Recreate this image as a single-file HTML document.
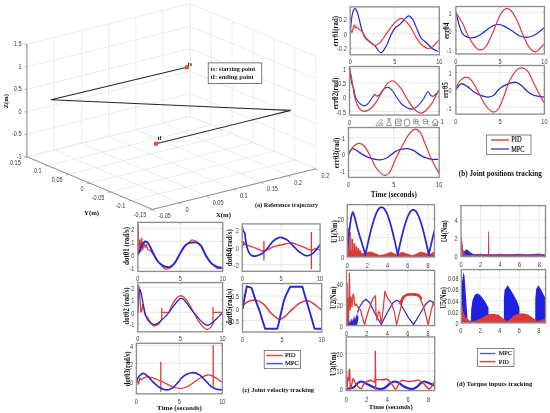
<!DOCTYPE html>
<html><head><meta charset="utf-8"><style>
html,body{margin:0;padding:0;background:#fff;width:550px;height:413px;overflow:hidden}
svg{display:block;filter:blur(0.4px)}
</style></head><body>
<svg width="550" height="413" viewBox="0 0 550 413">
<rect width="550" height="413" fill="#fff"/>
<line x1="26.9" y1="156.8" x2="190.3" y2="116.2" stroke="#e8e8e8" stroke-width="0.85"/>
<line x1="26.9" y1="134.3" x2="190.3" y2="93.7" stroke="#e8e8e8" stroke-width="0.85"/>
<line x1="26.9" y1="111.8" x2="190.3" y2="71.2" stroke="#e8e8e8" stroke-width="0.85"/>
<line x1="26.9" y1="89.3" x2="190.3" y2="48.7" stroke="#e8e8e8" stroke-width="0.85"/>
<line x1="26.9" y1="66.8" x2="190.3" y2="26.2" stroke="#e8e8e8" stroke-width="0.85"/>
<line x1="26.9" y1="44.3" x2="190.3" y2="3.7" stroke="#e8e8e8" stroke-width="0.85"/>
<line x1="26.9" y1="156.8" x2="26.9" y2="44.3" stroke="#e8e8e8" stroke-width="0.85"/>
<line x1="54.13" y1="150.03" x2="54.13" y2="37.53" stroke="#e8e8e8" stroke-width="0.85"/>
<line x1="81.37" y1="143.27" x2="81.37" y2="30.77" stroke="#e8e8e8" stroke-width="0.85"/>
<line x1="108.6" y1="136.5" x2="108.6" y2="24" stroke="#e8e8e8" stroke-width="0.85"/>
<line x1="135.83" y1="129.73" x2="135.83" y2="17.23" stroke="#e8e8e8" stroke-width="0.85"/>
<line x1="163.07" y1="122.97" x2="163.07" y2="10.47" stroke="#e8e8e8" stroke-width="0.85"/>
<line x1="190.3" y1="116.2" x2="190.3" y2="3.7" stroke="#e8e8e8" stroke-width="0.85"/>
<line x1="190.3" y1="116.2" x2="315.8" y2="168.8" stroke="#e8e8e8" stroke-width="0.85"/>
<line x1="190.3" y1="93.7" x2="315.8" y2="146.3" stroke="#e8e8e8" stroke-width="0.85"/>
<line x1="190.3" y1="71.2" x2="315.8" y2="123.8" stroke="#e8e8e8" stroke-width="0.85"/>
<line x1="190.3" y1="48.7" x2="315.8" y2="101.3" stroke="#e8e8e8" stroke-width="0.85"/>
<line x1="190.3" y1="26.2" x2="315.8" y2="78.8" stroke="#e8e8e8" stroke-width="0.85"/>
<line x1="190.3" y1="3.7" x2="315.8" y2="56.3" stroke="#e8e8e8" stroke-width="0.85"/>
<line x1="190.3" y1="116.2" x2="190.3" y2="3.7" stroke="#e8e8e8" stroke-width="0.85"/>
<line x1="211.22" y1="124.97" x2="211.22" y2="12.47" stroke="#e8e8e8" stroke-width="0.85"/>
<line x1="232.13" y1="133.73" x2="232.13" y2="21.23" stroke="#e8e8e8" stroke-width="0.85"/>
<line x1="253.05" y1="142.5" x2="253.05" y2="30" stroke="#e8e8e8" stroke-width="0.85"/>
<line x1="273.97" y1="151.27" x2="273.97" y2="38.77" stroke="#e8e8e8" stroke-width="0.85"/>
<line x1="294.88" y1="160.03" x2="294.88" y2="47.53" stroke="#e8e8e8" stroke-width="0.85"/>
<line x1="315.8" y1="168.8" x2="315.8" y2="56.3" stroke="#e8e8e8" stroke-width="0.85"/>
<line x1="26.9" y1="156.8" x2="152.4" y2="209.4" stroke="#e8e8e8" stroke-width="0.85"/>
<line x1="54.13" y1="150.03" x2="179.63" y2="202.63" stroke="#e8e8e8" stroke-width="0.85"/>
<line x1="81.37" y1="143.27" x2="206.87" y2="195.87" stroke="#e8e8e8" stroke-width="0.85"/>
<line x1="108.6" y1="136.5" x2="234.1" y2="189.1" stroke="#e8e8e8" stroke-width="0.85"/>
<line x1="135.83" y1="129.73" x2="261.33" y2="182.33" stroke="#e8e8e8" stroke-width="0.85"/>
<line x1="163.07" y1="122.97" x2="288.57" y2="175.57" stroke="#e8e8e8" stroke-width="0.85"/>
<line x1="190.3" y1="116.2" x2="315.8" y2="168.8" stroke="#e8e8e8" stroke-width="0.85"/>
<line x1="26.9" y1="156.8" x2="190.3" y2="116.2" stroke="#e8e8e8" stroke-width="0.85"/>
<line x1="47.82" y1="165.57" x2="211.22" y2="124.97" stroke="#e8e8e8" stroke-width="0.85"/>
<line x1="68.73" y1="174.33" x2="232.13" y2="133.73" stroke="#e8e8e8" stroke-width="0.85"/>
<line x1="89.65" y1="183.1" x2="253.05" y2="142.5" stroke="#e8e8e8" stroke-width="0.85"/>
<line x1="110.57" y1="191.87" x2="273.97" y2="151.27" stroke="#e8e8e8" stroke-width="0.85"/>
<line x1="131.48" y1="200.63" x2="294.88" y2="160.03" stroke="#e8e8e8" stroke-width="0.85"/>
<line x1="152.4" y1="209.4" x2="315.8" y2="168.8" stroke="#e8e8e8" stroke-width="0.85"/>
<line x1="26.9" y1="156.8" x2="26.9" y2="44.3" stroke="#8e8e8e" stroke-width="1.0"/>
<line x1="26.9" y1="156.8" x2="152.4" y2="209.4" stroke="#8e8e8e" stroke-width="1.0"/>
<line x1="152.4" y1="209.4" x2="315.8" y2="168.8" stroke="#8e8e8e" stroke-width="1.0"/>
<line x1="26.9" y1="156.8" x2="24.7" y2="156.8" stroke="#8e8e8e" stroke-width="0.8"/>
<text x="21.6" y="156.8" font-family="Liberation Sans" font-size="6.496" font-weight="normal" fill="#3c3c3c" text-anchor="end" dominant-baseline="central" transform="translate(21.6 156.8) scale(0.86 1) translate(-21.6 -156.8)">-1</text>
<line x1="26.9" y1="134.3" x2="24.7" y2="134.3" stroke="#8e8e8e" stroke-width="0.8"/>
<text x="21.6" y="134.3" font-family="Liberation Sans" font-size="6.496" font-weight="normal" fill="#3c3c3c" text-anchor="end" dominant-baseline="central" transform="translate(21.6 134.3) scale(0.86 1) translate(-21.6 -134.3)">-0.5</text>
<line x1="26.9" y1="111.8" x2="24.7" y2="111.8" stroke="#8e8e8e" stroke-width="0.8"/>
<text x="21.6" y="111.8" font-family="Liberation Sans" font-size="6.496" font-weight="normal" fill="#3c3c3c" text-anchor="end" dominant-baseline="central" transform="translate(21.6 111.8) scale(0.86 1) translate(-21.6 -111.8)">0</text>
<line x1="26.9" y1="89.3" x2="24.7" y2="89.3" stroke="#8e8e8e" stroke-width="0.8"/>
<text x="21.6" y="89.3" font-family="Liberation Sans" font-size="6.496" font-weight="normal" fill="#3c3c3c" text-anchor="end" dominant-baseline="central" transform="translate(21.6 89.3) scale(0.86 1) translate(-21.6 -89.3)">0.5</text>
<line x1="26.9" y1="66.8" x2="24.7" y2="66.8" stroke="#8e8e8e" stroke-width="0.8"/>
<text x="21.6" y="66.8" font-family="Liberation Sans" font-size="6.496" font-weight="normal" fill="#3c3c3c" text-anchor="end" dominant-baseline="central" transform="translate(21.6 66.8) scale(0.86 1) translate(-21.6 -66.8)">1</text>
<line x1="26.9" y1="44.3" x2="24.7" y2="44.3" stroke="#8e8e8e" stroke-width="0.8"/>
<text x="21.6" y="44.3" font-family="Liberation Sans" font-size="6.496" font-weight="normal" fill="#3c3c3c" text-anchor="end" dominant-baseline="central" transform="translate(21.6 44.3) scale(0.86 1) translate(-21.6 -44.3)">1.5</text>
<line x1="26.9" y1="156.8" x2="24.3" y2="157.4" stroke="#8e8e8e" stroke-width="0.8"/>
<text x="20.8" y="162.5" font-family="Liberation Sans" font-size="6.496" font-weight="normal" fill="#3c3c3c" text-anchor="end" dominant-baseline="central" transform="translate(20.8 162.5) scale(0.86 1) translate(-20.8 -162.5)">0.15</text>
<line x1="47.82" y1="165.57" x2="45.22" y2="166.17" stroke="#8e8e8e" stroke-width="0.8"/>
<text x="41.72" y="171.27" font-family="Liberation Sans" font-size="6.496" font-weight="normal" fill="#3c3c3c" text-anchor="end" dominant-baseline="central" transform="translate(41.72 171.27) scale(0.86 1) translate(-41.72 -171.27)">0.1</text>
<line x1="68.73" y1="174.33" x2="66.13" y2="174.93" stroke="#8e8e8e" stroke-width="0.8"/>
<text x="62.63" y="180.03" font-family="Liberation Sans" font-size="6.496" font-weight="normal" fill="#3c3c3c" text-anchor="end" dominant-baseline="central" transform="translate(62.63 180.03) scale(0.86 1) translate(-62.63 -180.03)">0.05</text>
<line x1="89.65" y1="183.1" x2="87.05" y2="183.7" stroke="#8e8e8e" stroke-width="0.8"/>
<text x="83.55" y="188.8" font-family="Liberation Sans" font-size="6.496" font-weight="normal" fill="#3c3c3c" text-anchor="end" dominant-baseline="central" transform="translate(83.55 188.8) scale(0.86 1) translate(-83.55 -188.8)">0</text>
<line x1="110.57" y1="191.87" x2="107.97" y2="192.47" stroke="#8e8e8e" stroke-width="0.8"/>
<text x="104.47" y="197.57" font-family="Liberation Sans" font-size="6.496" font-weight="normal" fill="#3c3c3c" text-anchor="end" dominant-baseline="central" transform="translate(104.47 197.57) scale(0.86 1) translate(-104.47 -197.57)">-0.05</text>
<line x1="131.48" y1="200.63" x2="128.88" y2="201.23" stroke="#8e8e8e" stroke-width="0.8"/>
<text x="125.38" y="206.33" font-family="Liberation Sans" font-size="6.496" font-weight="normal" fill="#3c3c3c" text-anchor="end" dominant-baseline="central" transform="translate(125.38 206.33) scale(0.86 1) translate(-125.38 -206.33)">-0.1</text>
<line x1="152.4" y1="209.4" x2="149.8" y2="210" stroke="#8e8e8e" stroke-width="0.8"/>
<text x="146.3" y="215.1" font-family="Liberation Sans" font-size="6.496" font-weight="normal" fill="#3c3c3c" text-anchor="end" dominant-baseline="central" transform="translate(146.3 215.1) scale(0.86 1) translate(-146.3 -215.1)">-0.15</text>
<line x1="152.4" y1="209.4" x2="154.6" y2="211.2" stroke="#8e8e8e" stroke-width="0.8"/>
<text x="158.2" y="216.2" font-family="Liberation Sans" font-size="6.496" font-weight="normal" fill="#3c3c3c" text-anchor="start" dominant-baseline="central" transform="translate(158.2 216.2) scale(0.86 1) translate(-158.2 -216.2)">-0.05</text>
<line x1="179.63" y1="202.63" x2="181.83" y2="204.43" stroke="#8e8e8e" stroke-width="0.8"/>
<text x="185.43" y="209.43" font-family="Liberation Sans" font-size="6.496" font-weight="normal" fill="#3c3c3c" text-anchor="start" dominant-baseline="central" transform="translate(185.43 209.43) scale(0.86 1) translate(-185.43 -209.43)">0</text>
<line x1="206.87" y1="195.87" x2="209.07" y2="197.67" stroke="#8e8e8e" stroke-width="0.8"/>
<text x="212.67" y="202.67" font-family="Liberation Sans" font-size="6.496" font-weight="normal" fill="#3c3c3c" text-anchor="start" dominant-baseline="central" transform="translate(212.67 202.67) scale(0.86 1) translate(-212.67 -202.67)">0.05</text>
<line x1="234.1" y1="189.1" x2="236.3" y2="190.9" stroke="#8e8e8e" stroke-width="0.8"/>
<text x="239.9" y="195.9" font-family="Liberation Sans" font-size="6.496" font-weight="normal" fill="#3c3c3c" text-anchor="start" dominant-baseline="central" transform="translate(239.9 195.9) scale(0.86 1) translate(-239.9 -195.9)">0.1</text>
<line x1="261.33" y1="182.33" x2="263.53" y2="184.13" stroke="#8e8e8e" stroke-width="0.8"/>
<text x="267.13" y="189.13" font-family="Liberation Sans" font-size="6.496" font-weight="normal" fill="#3c3c3c" text-anchor="start" dominant-baseline="central" transform="translate(267.13 189.13) scale(0.86 1) translate(-267.13 -189.13)">0.15</text>
<line x1="288.57" y1="175.57" x2="290.77" y2="177.37" stroke="#8e8e8e" stroke-width="0.8"/>
<text x="294.37" y="182.37" font-family="Liberation Sans" font-size="6.496" font-weight="normal" fill="#3c3c3c" text-anchor="start" dominant-baseline="central" transform="translate(294.37 182.37) scale(0.86 1) translate(-294.37 -182.37)">0.2</text>
<line x1="315.8" y1="168.8" x2="318" y2="170.6" stroke="#8e8e8e" stroke-width="0.8"/>
<text x="321.6" y="175.6" font-family="Liberation Sans" font-size="6.496" font-weight="normal" fill="#3c3c3c" text-anchor="start" dominant-baseline="central" transform="translate(321.6 175.6) scale(0.86 1) translate(-321.6 -175.6)">0.25</text>
<text x="5.1" y="101.2" font-family="Liberation Serif" font-size="6.8" font-weight="bold" fill="#111" text-anchor="middle" dominant-baseline="central" transform="rotate(-90 5.1 101.2)" textLength="14" lengthAdjust="spacingAndGlyphs">Z(m)</text>
<text x="91.6" y="212.2" font-family="Liberation Serif" font-size="6.8" font-weight="bold" fill="#111" text-anchor="middle" dominant-baseline="central">Y(m)</text>
<text x="223.5" y="214.5" font-family="Liberation Serif" font-size="6.8" font-weight="bold" fill="#111" text-anchor="middle" dominant-baseline="central">X(m)</text>
<path d="M187,67.3 L51,99.8 L290.7,110.4 L156,143.8" fill="none" stroke="#262626" stroke-width="1.1" stroke-linejoin="miter"/>
<circle cx="187" cy="67.3" r="2.3" fill="#e0561e"/>
<circle cx="156" cy="143.8" r="2.3" fill="#e0561e"/>
<text x="190" y="64" font-family="Liberation Serif" font-size="6" font-weight="bold" fill="#111" text-anchor="middle" dominant-baseline="central">ts</text>
<text x="159.5" y="138" font-family="Liberation Serif" font-size="6" font-weight="bold" fill="#111" text-anchor="middle" dominant-baseline="central">tf</text>
<rect x="208.2" y="62.9" width="53.6" height="20.7" fill="#fff" stroke="#444" stroke-width="0.7"/>
<text x="210.6" y="68.9" font-family="Liberation Serif" font-size="7.0" font-weight="bold" fill="#1a1a1a" text-anchor="start" dominant-baseline="central" textLength="44.8" lengthAdjust="spacingAndGlyphs">ts: starting point</text>
<text x="210.6" y="76.9" font-family="Liberation Serif" font-size="7.0" font-weight="bold" fill="#1a1a1a" text-anchor="start" dominant-baseline="central" textLength="43.2" lengthAdjust="spacingAndGlyphs">tf: ending point</text>
<text x="286.5" y="204.6" font-family="Liberation Serif" font-size="6.2" font-weight="bold" fill="#111" text-anchor="middle" dominant-baseline="central">(a) Reference trajectory</text>
<rect x="329.4" y="0" width="221" height="200" fill="#fff"/>
<rect x="350.2" y="6.9" width="89.1" height="47.9" fill="#fff"/>
<line x1="350.2" y1="18.3" x2="439.3" y2="18.3" stroke="#e3e3e3" stroke-width="0.8"/>
<line x1="350.2" y1="33.3" x2="439.3" y2="33.3" stroke="#e3e3e3" stroke-width="0.8"/>
<line x1="350.2" y1="48.2" x2="439.3" y2="48.2" stroke="#e3e3e3" stroke-width="0.8"/>
<line x1="394.75" y1="6.9" x2="394.75" y2="54.8" stroke="#e3e3e3" stroke-width="0.8"/>
<text x="346.8" y="19.4" font-family="Liberation Sans" font-size="6.496" font-weight="normal" fill="#3c3c3c" text-anchor="end" dominant-baseline="central" transform="translate(346.8 19.4) scale(0.86 1) translate(-346.8 -19.4)">0.2</text>
<text x="346.8" y="34.4" font-family="Liberation Sans" font-size="6.496" font-weight="normal" fill="#3c3c3c" text-anchor="end" dominant-baseline="central" transform="translate(346.8 34.4) scale(0.86 1) translate(-346.8 -34.4)">0</text>
<text x="346.8" y="49.3" font-family="Liberation Sans" font-size="6.496" font-weight="normal" fill="#3c3c3c" text-anchor="end" dominant-baseline="central" transform="translate(346.8 49.3) scale(0.86 1) translate(-346.8 -49.3)">-0.2</text>
<text x="350.2" y="62.3" font-family="Liberation Sans" font-size="6.496" font-weight="normal" fill="#3c3c3c" text-anchor="middle" dominant-baseline="central" transform="translate(350.2 62.3) scale(0.86 1) translate(-350.2 -62.3)">0</text>
<text x="394.75" y="62.3" font-family="Liberation Sans" font-size="6.496" font-weight="normal" fill="#3c3c3c" text-anchor="middle" dominant-baseline="central" transform="translate(394.75 62.3) scale(0.86 1) translate(-394.75 -62.3)">5</text>
<text x="439.3" y="62.3" font-family="Liberation Sans" font-size="6.496" font-weight="normal" fill="#3c3c3c" text-anchor="middle" dominant-baseline="central" transform="translate(439.3 62.3) scale(0.86 1) translate(-439.3 -62.3)">10</text>
<text x="335.8" y="31.3" font-family="Liberation Serif" font-size="7.5" font-weight="bold" fill="#111" text-anchor="middle" dominant-baseline="central" transform="rotate(-90 335.8 31.3)" textLength="30.5" lengthAdjust="spacingAndGlyphs">err&#952;1(rad)</text>
<clipPath id="cb1"><rect x="350.2" y="6.9" width="89.1" height="47.9"/></clipPath>
<g clip-path="url(#cb1)">
<path d="M350.3,33.2 C350.58,30.33 351.28,20.08 352,16 C352.72,11.92 353.67,9.17 354.6,8.7 C355.53,8.23 356.38,9.63 357.6,13.2 C358.82,16.77 360.6,26 361.9,30.1 C363.2,34.2 363.88,35.7 365.4,37.8 C366.92,39.9 369.37,41.3 371,42.7 C372.63,44.1 373.57,44.55 375.2,46.2 C376.83,47.85 379.05,52.47 380.8,52.6 C382.55,52.73 383.95,50.05 385.7,47 C387.45,43.95 389.75,37.47 391.3,34.3 C392.85,31.13 393.58,29.63 395,28 C396.42,26.37 398.17,26.02 399.8,24.5 C401.43,22.98 403.27,20.35 404.8,18.9 C406.33,17.45 407.6,15.57 409,15.8 C410.4,16.03 411.8,17.92 413.2,20.3 C414.6,22.68 416.12,27.18 417.4,30.1 C418.68,33.02 419.38,35.68 420.9,37.8 C422.42,39.92 424.62,41.03 426.5,42.8 C428.38,44.57 430.32,47 432.2,48.4 C434.08,49.8 436.87,50.73 437.8,51.2" fill="none" stroke="#2828d2" stroke-width="1.2" stroke-linejoin="round" stroke-linecap="round" opacity="1.0"/>
<path d="M350.3,33.2 C350.47,32.8 350.98,31 351.3,30.8 C351.62,30.6 351.73,32.93 352.2,32 C352.67,31.07 353.55,25.87 354.1,25.2 C354.65,24.53 355.02,27.7 355.5,28 C355.98,28.3 356.42,26.77 357,27 C357.58,27.23 358.18,28.65 359,29.4 C359.82,30.15 360.83,30.22 361.9,31.5 C362.97,32.78 364.12,35.47 365.4,37.1 C366.68,38.73 368.08,39.9 369.6,41.3 C371.12,42.7 372.77,45.27 374.5,45.5 C376.23,45.73 377.92,44.8 380,42.7 C382.08,40.6 384.5,36.28 387,32.9 C389.5,29.52 392.75,24.78 395,22.4 C397.25,20.02 399,19.07 400.5,18.6 C402,18.13 402.47,18.38 404,19.6 C405.53,20.82 407.82,23.22 409.7,25.9 C411.58,28.58 413.43,32.65 415.3,35.7 C417.17,38.75 418.92,42.08 420.9,44.2 C422.88,46.32 425.32,47.93 427.2,48.4 C429.08,48.87 430.43,48.17 432.2,47 C433.97,45.83 436.62,42.65 437.8,41.4 C438.98,40.15 439.05,39.82 439.3,39.5" fill="none" stroke="#dc3a3a" stroke-width="1.2" stroke-linejoin="round" stroke-linecap="round" opacity="1.0"/>
</g>
<rect x="350.2" y="6.9" width="89.1" height="47.9" fill="none" stroke="#8e8e8e" stroke-width="1.35"/>
<line x1="350.2" y1="18.3" x2="351.4" y2="18.3" stroke="#8e8e8e" stroke-width="0.7"/>
<line x1="438.1" y1="18.3" x2="439.3" y2="18.3" stroke="#8e8e8e" stroke-width="0.7"/>
<line x1="350.2" y1="33.3" x2="351.4" y2="33.3" stroke="#8e8e8e" stroke-width="0.7"/>
<line x1="438.1" y1="33.3" x2="439.3" y2="33.3" stroke="#8e8e8e" stroke-width="0.7"/>
<line x1="350.2" y1="48.2" x2="351.4" y2="48.2" stroke="#8e8e8e" stroke-width="0.7"/>
<line x1="438.1" y1="48.2" x2="439.3" y2="48.2" stroke="#8e8e8e" stroke-width="0.7"/>
<line x1="394.75" y1="6.9" x2="394.75" y2="8.1" stroke="#8e8e8e" stroke-width="0.7"/>
<line x1="394.75" y1="53.6" x2="394.75" y2="54.8" stroke="#8e8e8e" stroke-width="0.7"/>
<rect x="349.5" y="66.5" width="89.7" height="48.6" fill="#fff"/>
<line x1="349.5" y1="68.3" x2="439.2" y2="68.3" stroke="#e3e3e3" stroke-width="0.8"/>
<line x1="349.5" y1="82.8" x2="439.2" y2="82.8" stroke="#e3e3e3" stroke-width="0.8"/>
<line x1="349.5" y1="97.1" x2="439.2" y2="97.1" stroke="#e3e3e3" stroke-width="0.8"/>
<line x1="349.5" y1="111.4" x2="439.2" y2="111.4" stroke="#e3e3e3" stroke-width="0.8"/>
<line x1="394.35" y1="66.5" x2="394.35" y2="115.1" stroke="#e3e3e3" stroke-width="0.8"/>
<text x="346.1" y="69.4" font-family="Liberation Sans" font-size="6.496" font-weight="normal" fill="#3c3c3c" text-anchor="end" dominant-baseline="central" transform="translate(346.1 69.4) scale(0.86 1) translate(-346.1 -69.4)">1</text>
<text x="346.1" y="83.9" font-family="Liberation Sans" font-size="6.496" font-weight="normal" fill="#3c3c3c" text-anchor="end" dominant-baseline="central" transform="translate(346.1 83.9) scale(0.86 1) translate(-346.1 -83.9)">0.5</text>
<text x="346.1" y="98.2" font-family="Liberation Sans" font-size="6.496" font-weight="normal" fill="#3c3c3c" text-anchor="end" dominant-baseline="central" transform="translate(346.1 98.2) scale(0.86 1) translate(-346.1 -98.2)">0</text>
<text x="346.1" y="112.5" font-family="Liberation Sans" font-size="6.496" font-weight="normal" fill="#3c3c3c" text-anchor="end" dominant-baseline="central" transform="translate(346.1 112.5) scale(0.86 1) translate(-346.1 -112.5)">-0.5</text>
<text x="349.5" y="123" font-family="Liberation Sans" font-size="6.496" font-weight="normal" fill="#3c3c3c" text-anchor="middle" dominant-baseline="central" transform="translate(349.5 123) scale(0.86 1) translate(-349.5 -123)">0</text>
<text x="335.8" y="93.5" font-family="Liberation Serif" font-size="7.5" font-weight="bold" fill="#111" text-anchor="middle" dominant-baseline="central" transform="rotate(-90 335.8 93.5)" textLength="31.5" lengthAdjust="spacingAndGlyphs">err&#952;2(rad)</text>
<clipPath id="cb2"><rect x="349.5" y="66.5" width="89.7" height="48.6"/></clipPath>
<g clip-path="url(#cb2)">
<path d="M349.5,67.6 C349.87,70.17 351,79.48 351.7,83 C352.4,86.52 353.07,86.35 353.7,88.7 C354.33,91.05 354.62,94.77 355.5,97.1 C356.38,99.43 357.7,101.25 359,102.7 C360.3,104.15 361.88,105.57 363.3,105.8 C364.72,106.03 366.1,105.32 367.5,104.1 C368.9,102.88 370.53,100.08 371.7,98.5 C372.87,96.92 373.68,95.02 374.5,94.6 C375.32,94.18 375.78,95.93 376.6,96 C377.42,96.07 378.35,95.98 379.4,95 C380.45,94.02 381.62,91.38 382.9,90.1 C384.18,88.82 385.7,87.42 387.1,87.3 C388.5,87.18 389.88,88 391.3,89.4 C392.72,90.8 393.95,93.35 395.6,95.7 C397.25,98.05 399.32,101.5 401.2,103.5 C403.08,105.5 405.02,106.77 406.9,107.7 C408.78,108.63 410.63,109.45 412.5,109.1 C414.37,108.75 416.23,107.37 418.1,105.6 C419.97,103.83 422.1,100.8 423.7,98.5 C425.3,96.2 426.52,92.3 427.7,91.8 C428.88,91.3 429.82,94.8 430.8,95.5 C431.78,96.2 432.43,96.55 433.6,96 C434.77,95.45 436.87,93.12 437.8,92.2 C438.73,91.28 438.97,90.78 439.2,90.5" fill="none" stroke="#2828d2" stroke-width="1.1" stroke-linejoin="round" stroke-linecap="round" opacity="1.0"/>
<path d="M349.5,67.6 C349.92,69.72 351.23,75.85 352,80.3 C352.77,84.75 353.28,90.33 354.1,94.3 C354.92,98.27 355.85,101.52 356.9,104.1 C357.95,106.68 359.1,108.58 360.4,109.8 C361.7,111.02 363.05,111.53 364.7,111.4 C366.35,111.27 368.43,110.45 370.3,109 C372.17,107.55 374.03,105.38 375.9,102.7 C377.77,100.02 379.63,96.05 381.5,92.9 C383.37,89.75 385.35,85.78 387.1,83.8 C388.85,81.82 390.58,81.23 392,81 C393.42,80.77 394.07,81.12 395.6,82.4 C397.13,83.68 399.32,86.02 401.2,88.7 C403.08,91.38 405.02,95.45 406.9,98.5 C408.78,101.55 410.4,104.6 412.5,107 C414.6,109.4 417.4,112.2 419.5,112.9 C421.6,113.6 422.98,112.88 425.1,111.2 C427.22,109.52 430.08,105.97 432.2,102.8 C434.32,99.63 436.63,94.33 437.8,92.2 C438.97,90.07 438.97,90.37 439.2,90" fill="none" stroke="#dc3a3a" stroke-width="1.2" stroke-linejoin="round" stroke-linecap="round" opacity="1.0"/>
</g>
<rect x="349.5" y="66.5" width="89.7" height="48.6" fill="none" stroke="#8e8e8e" stroke-width="1.35"/>
<line x1="349.5" y1="68.3" x2="350.7" y2="68.3" stroke="#8e8e8e" stroke-width="0.7"/>
<line x1="438" y1="68.3" x2="439.2" y2="68.3" stroke="#8e8e8e" stroke-width="0.7"/>
<line x1="349.5" y1="82.8" x2="350.7" y2="82.8" stroke="#8e8e8e" stroke-width="0.7"/>
<line x1="438" y1="82.8" x2="439.2" y2="82.8" stroke="#8e8e8e" stroke-width="0.7"/>
<line x1="349.5" y1="97.1" x2="350.7" y2="97.1" stroke="#8e8e8e" stroke-width="0.7"/>
<line x1="438" y1="97.1" x2="439.2" y2="97.1" stroke="#8e8e8e" stroke-width="0.7"/>
<line x1="349.5" y1="111.4" x2="350.7" y2="111.4" stroke="#8e8e8e" stroke-width="0.7"/>
<line x1="438" y1="111.4" x2="439.2" y2="111.4" stroke="#8e8e8e" stroke-width="0.7"/>
<line x1="394.35" y1="66.5" x2="394.35" y2="67.7" stroke="#8e8e8e" stroke-width="0.7"/>
<line x1="394.35" y1="113.9" x2="394.35" y2="115.1" stroke="#8e8e8e" stroke-width="0.7"/>
<rect x="348.5" y="127.5" width="90.7" height="49.9" fill="#fff"/>
<line x1="348.5" y1="137.8" x2="439.2" y2="137.8" stroke="#e3e3e3" stroke-width="0.8"/>
<line x1="348.5" y1="154.2" x2="439.2" y2="154.2" stroke="#e3e3e3" stroke-width="0.8"/>
<line x1="348.5" y1="170.3" x2="439.2" y2="170.3" stroke="#e3e3e3" stroke-width="0.8"/>
<line x1="393.85" y1="127.5" x2="393.85" y2="177.4" stroke="#e3e3e3" stroke-width="0.8"/>
<text x="345.1" y="138.9" font-family="Liberation Sans" font-size="6.496" font-weight="normal" fill="#3c3c3c" text-anchor="end" dominant-baseline="central" transform="translate(345.1 138.9) scale(0.86 1) translate(-345.1 -138.9)">1</text>
<text x="345.1" y="155.3" font-family="Liberation Sans" font-size="6.496" font-weight="normal" fill="#3c3c3c" text-anchor="end" dominant-baseline="central" transform="translate(345.1 155.3) scale(0.86 1) translate(-345.1 -155.3)">0</text>
<text x="345.1" y="171.4" font-family="Liberation Sans" font-size="6.496" font-weight="normal" fill="#3c3c3c" text-anchor="end" dominant-baseline="central" transform="translate(345.1 171.4) scale(0.86 1) translate(-345.1 -171.4)">-1</text>
<text x="348.5" y="185.2" font-family="Liberation Sans" font-size="6.496" font-weight="normal" fill="#3c3c3c" text-anchor="middle" dominant-baseline="central" transform="translate(348.5 185.2) scale(0.86 1) translate(-348.5 -185.2)">0</text>
<text x="393.85" y="185.2" font-family="Liberation Sans" font-size="6.496" font-weight="normal" fill="#3c3c3c" text-anchor="middle" dominant-baseline="central" transform="translate(393.85 185.2) scale(0.86 1) translate(-393.85 -185.2)">5</text>
<text x="439.2" y="185.2" font-family="Liberation Sans" font-size="6.496" font-weight="normal" fill="#3c3c3c" text-anchor="middle" dominant-baseline="central" transform="translate(439.2 185.2) scale(0.86 1) translate(-439.2 -185.2)">10</text>
<text x="336.3" y="153" font-family="Liberation Serif" font-size="7.5" font-weight="bold" fill="#111" text-anchor="middle" dominant-baseline="central" transform="rotate(-90 336.3 153)" textLength="30.6" lengthAdjust="spacingAndGlyphs">err&#952;3(rad)</text>
<clipPath id="cb3"><rect x="348.5" y="127.5" width="90.7" height="49.9"/></clipPath>
<g clip-path="url(#cb3)">
<path d="M348.5,154.2 C349.2,153.27 350.95,148.95 352.7,148.6 C354.45,148.25 356.77,150.82 359,152.1 C361.23,153.38 363.75,155.18 366.1,156.3 C368.45,157.42 370.77,158.22 373.1,158.8 C375.43,159.38 377.77,159.98 380.1,159.8 C382.43,159.62 384.52,159.1 387.1,157.7 C389.68,156.3 393.25,152.8 395.6,151.4 C397.95,150 399.2,149.77 401.2,149.3 C403.2,148.83 405.48,148.37 407.6,148.6 C409.72,148.83 411.68,149.53 413.9,150.7 C416.12,151.87 418.55,154.32 420.9,155.6 C423.25,156.88 426.12,157.77 428,158.4 C429.88,159.03 430.57,159.23 432.2,159.4 C433.83,159.57 436.87,159.4 437.8,159.4" fill="none" stroke="#2828d2" stroke-width="1.3" stroke-linejoin="round" stroke-linecap="round" opacity="1.0"/>
<path d="M348.5,153.5 C349.32,152.33 351.65,148.18 353.4,146.5 C355.15,144.82 357.12,143.4 359,143.4 C360.88,143.4 362.82,144.35 364.7,146.5 C366.58,148.65 368.43,152.8 370.3,156.3 C372.17,159.8 374.03,164.57 375.9,167.5 C377.77,170.43 379.87,172.6 381.5,173.9 C383.13,175.2 384.28,175.65 385.7,175.3 C387.12,174.95 388.35,174.5 390,171.8 C391.65,169.1 393.73,163.08 395.6,159.1 C397.47,155.12 399.08,151.88 401.2,147.9 C403.32,143.92 406.07,138.3 408.3,135.2 C410.53,132.1 412.62,129.77 414.6,129.3 C416.58,128.83 418.45,130 420.2,132.4 C421.95,134.8 423.33,139.48 425.1,143.7 C426.87,147.92 428.68,153.13 430.8,157.7 C432.92,162.27 436.4,168.47 437.8,171.1 C439.2,173.73 438.97,173.1 439.2,173.5" fill="none" stroke="#dc3a3a" stroke-width="1.2" stroke-linejoin="round" stroke-linecap="round" opacity="1.0"/>
</g>
<rect x="348.5" y="127.5" width="90.7" height="49.9" fill="none" stroke="#8e8e8e" stroke-width="1.35"/>
<line x1="348.5" y1="137.8" x2="349.7" y2="137.8" stroke="#8e8e8e" stroke-width="0.7"/>
<line x1="438" y1="137.8" x2="439.2" y2="137.8" stroke="#8e8e8e" stroke-width="0.7"/>
<line x1="348.5" y1="154.2" x2="349.7" y2="154.2" stroke="#8e8e8e" stroke-width="0.7"/>
<line x1="438" y1="154.2" x2="439.2" y2="154.2" stroke="#8e8e8e" stroke-width="0.7"/>
<line x1="348.5" y1="170.3" x2="349.7" y2="170.3" stroke="#8e8e8e" stroke-width="0.7"/>
<line x1="438" y1="170.3" x2="439.2" y2="170.3" stroke="#8e8e8e" stroke-width="0.7"/>
<line x1="393.85" y1="127.5" x2="393.85" y2="128.7" stroke="#8e8e8e" stroke-width="0.7"/>
<line x1="393.85" y1="176.2" x2="393.85" y2="177.4" stroke="#8e8e8e" stroke-width="0.7"/>
<text x="393.8" y="194.6" font-family="Liberation Serif" font-size="7.2" font-weight="bold" fill="#111" text-anchor="middle" dominant-baseline="central">Time (seconds)</text>
<rect x="455.9" y="6.5" width="88.5" height="47.5" fill="#fff"/>
<line x1="455.9" y1="12.3" x2="544.4" y2="12.3" stroke="#e3e3e3" stroke-width="0.8"/>
<line x1="455.9" y1="31.2" x2="544.4" y2="31.2" stroke="#e3e3e3" stroke-width="0.8"/>
<line x1="455.9" y1="49.7" x2="544.4" y2="49.7" stroke="#e3e3e3" stroke-width="0.8"/>
<line x1="500.15" y1="6.5" x2="500.15" y2="54" stroke="#e3e3e3" stroke-width="0.8"/>
<text x="451.6" y="13.4" font-family="Liberation Sans" font-size="6.496" font-weight="normal" fill="#3c3c3c" text-anchor="end" dominant-baseline="central" transform="translate(451.6 13.4) scale(0.86 1) translate(-451.6 -13.4)">1</text>
<text x="451.6" y="32.3" font-family="Liberation Sans" font-size="6.496" font-weight="normal" fill="#3c3c3c" text-anchor="end" dominant-baseline="central" transform="translate(451.6 32.3) scale(0.86 1) translate(-451.6 -32.3)">0</text>
<text x="451.6" y="50.8" font-family="Liberation Sans" font-size="6.496" font-weight="normal" fill="#3c3c3c" text-anchor="end" dominant-baseline="central" transform="translate(451.6 50.8) scale(0.86 1) translate(-451.6 -50.8)">-1</text>
<text x="455.9" y="61.6" font-family="Liberation Sans" font-size="6.496" font-weight="normal" fill="#3c3c3c" text-anchor="middle" dominant-baseline="central" transform="translate(455.9 61.6) scale(0.86 1) translate(-455.9 -61.6)">0</text>
<text x="500.15" y="61.6" font-family="Liberation Sans" font-size="6.496" font-weight="normal" fill="#3c3c3c" text-anchor="middle" dominant-baseline="central" transform="translate(500.15 61.6) scale(0.86 1) translate(-500.15 -61.6)">5</text>
<text x="544.4" y="61.6" font-family="Liberation Sans" font-size="6.496" font-weight="normal" fill="#3c3c3c" text-anchor="middle" dominant-baseline="central" transform="translate(544.4 61.6) scale(0.86 1) translate(-544.4 -61.6)">10</text>
<text x="446.1" y="30.8" font-family="Liberation Serif" font-size="7.5" font-weight="bold" fill="#111" text-anchor="middle" dominant-baseline="central" transform="rotate(-90 446.1 30.8)" textLength="16.4" lengthAdjust="spacingAndGlyphs">err&#952;4</text>
<clipPath id="cb4"><rect x="455.9" y="6.5" width="88.5" height="47.5"/></clipPath>
<g clip-path="url(#cb4)">
<path d="M455.9,12.5 C456.42,14.5 457.9,20.98 459,24.5 C460.1,28.02 461.1,31.5 462.5,33.6 C463.9,35.7 465.87,36.4 467.4,37.1 C468.93,37.8 469.82,38.03 471.7,37.8 C473.58,37.57 476.37,36.87 478.7,35.7 C481.03,34.53 483.37,32.43 485.7,30.8 C488.03,29.17 490.6,26.95 492.7,25.9 C494.8,24.85 496.48,24.5 498.3,24.5 C500.12,24.5 501.32,24.85 503.6,25.9 C505.88,26.95 509.42,29.17 512,30.8 C514.58,32.43 516.75,34.6 519.1,35.7 C521.45,36.8 523.77,37.4 526.1,37.4 C528.43,37.4 531,36.57 533.1,35.7 C535.2,34.83 536.88,33.48 538.7,32.2 C540.52,30.92 543.12,28.7 544,28" fill="none" stroke="#2828d2" stroke-width="1.2" stroke-linejoin="round" stroke-linecap="round" opacity="1.0"/>
<path d="M455.9,12.5 C456.42,13.32 457.78,15.4 459,17.4 C460.22,19.4 461.8,21.68 463.2,24.5 C464.6,27.32 465.75,31.03 467.4,34.3 C469.05,37.57 471.1,41.52 473.1,44.1 C475.1,46.68 477.3,49.32 479.4,49.8 C481.5,50.28 483.48,49.82 485.7,47 C487.92,44.18 490.6,37.58 492.7,32.9 C494.8,28.22 496.72,22.42 498.3,18.9 C499.88,15.38 500.73,13.57 502.2,11.8 C503.67,10.03 505.47,8.3 507.1,8.3 C508.73,8.3 510.23,9.57 512,11.8 C513.77,14.03 515.82,17.72 517.7,21.7 C519.58,25.68 521.43,31.5 523.3,35.7 C525.17,39.9 526.92,44.2 528.9,46.9 C530.88,49.6 533.33,51.67 535.2,51.9 C537.07,52.13 538.63,49.6 540.1,48.3 C541.57,47 543.35,44.8 544,44.1" fill="none" stroke="#dc3a3a" stroke-width="1.2" stroke-linejoin="round" stroke-linecap="round" opacity="1.0"/>
</g>
<rect x="455.9" y="6.5" width="88.5" height="47.5" fill="none" stroke="#8e8e8e" stroke-width="1.35"/>
<line x1="455.9" y1="12.3" x2="457.1" y2="12.3" stroke="#8e8e8e" stroke-width="0.7"/>
<line x1="543.2" y1="12.3" x2="544.4" y2="12.3" stroke="#8e8e8e" stroke-width="0.7"/>
<line x1="455.9" y1="31.2" x2="457.1" y2="31.2" stroke="#8e8e8e" stroke-width="0.7"/>
<line x1="543.2" y1="31.2" x2="544.4" y2="31.2" stroke="#8e8e8e" stroke-width="0.7"/>
<line x1="455.9" y1="49.7" x2="457.1" y2="49.7" stroke="#8e8e8e" stroke-width="0.7"/>
<line x1="543.2" y1="49.7" x2="544.4" y2="49.7" stroke="#8e8e8e" stroke-width="0.7"/>
<line x1="500.15" y1="6.5" x2="500.15" y2="7.7" stroke="#8e8e8e" stroke-width="0.7"/>
<line x1="500.15" y1="52.8" x2="500.15" y2="54" stroke="#8e8e8e" stroke-width="0.7"/>
<rect x="455.9" y="65.5" width="88.5" height="48.6" fill="#fff"/>
<line x1="455.9" y1="72.5" x2="544.4" y2="72.5" stroke="#e3e3e3" stroke-width="0.8"/>
<line x1="455.9" y1="89.9" x2="544.4" y2="89.9" stroke="#e3e3e3" stroke-width="0.8"/>
<line x1="455.9" y1="107.3" x2="544.4" y2="107.3" stroke="#e3e3e3" stroke-width="0.8"/>
<line x1="500.15" y1="65.5" x2="500.15" y2="114.1" stroke="#e3e3e3" stroke-width="0.8"/>
<text x="451.6" y="73.6" font-family="Liberation Sans" font-size="6.496" font-weight="normal" fill="#3c3c3c" text-anchor="end" dominant-baseline="central" transform="translate(451.6 73.6) scale(0.86 1) translate(-451.6 -73.6)">1</text>
<text x="451.6" y="91" font-family="Liberation Sans" font-size="6.496" font-weight="normal" fill="#3c3c3c" text-anchor="end" dominant-baseline="central" transform="translate(451.6 91) scale(0.86 1) translate(-451.6 -91)">0</text>
<text x="451.6" y="108.4" font-family="Liberation Sans" font-size="6.496" font-weight="normal" fill="#3c3c3c" text-anchor="end" dominant-baseline="central" transform="translate(451.6 108.4) scale(0.86 1) translate(-451.6 -108.4)">-1</text>
<text x="455.9" y="122" font-family="Liberation Sans" font-size="6.496" font-weight="normal" fill="#3c3c3c" text-anchor="middle" dominant-baseline="central" transform="translate(455.9 122) scale(0.86 1) translate(-455.9 -122)">0</text>
<text x="500.15" y="122" font-family="Liberation Sans" font-size="6.496" font-weight="normal" fill="#3c3c3c" text-anchor="middle" dominant-baseline="central" transform="translate(500.15 122) scale(0.86 1) translate(-500.15 -122)">5</text>
<text x="544.4" y="122" font-family="Liberation Sans" font-size="6.496" font-weight="normal" fill="#3c3c3c" text-anchor="middle" dominant-baseline="central" transform="translate(544.4 122) scale(0.86 1) translate(-544.4 -122)">10</text>
<text x="446" y="90.1" font-family="Liberation Serif" font-size="7.5" font-weight="bold" fill="#111" text-anchor="middle" dominant-baseline="central" transform="rotate(-90 446 90.1)" textLength="16" lengthAdjust="spacingAndGlyphs">err&#952;5</text>
<clipPath id="cb5"><rect x="455.9" y="65.5" width="88.5" height="48.6"/></clipPath>
<g clip-path="url(#cb5)">
<path d="M455.9,89.4 C456.77,88.47 459.18,84.27 461.1,83.8 C463.02,83.33 465.17,85.2 467.4,86.6 C469.63,88 472.15,90.68 474.5,92.2 C476.85,93.72 479.17,94.88 481.5,95.7 C483.83,96.52 486.4,97.22 488.5,97.1 C490.6,96.98 492.52,96.17 494.1,95 C495.68,93.83 496.42,91.62 498,90.1 C499.58,88.58 501.5,87.07 503.6,85.9 C505.7,84.73 508.48,83.68 510.6,83.1 C512.72,82.52 514.42,81.93 516.3,82.4 C518.18,82.87 520.03,84.38 521.9,85.9 C523.77,87.42 525.63,89.98 527.5,91.5 C529.37,93.02 531.23,94.18 533.1,95 C534.97,95.82 536.95,96.05 538.7,96.4 C540.45,96.75 542.78,96.98 543.6,97.1" fill="none" stroke="#2828d2" stroke-width="1.3" stroke-linejoin="round" stroke-linecap="round" opacity="1.0"/>
<path d="M455.9,88 C456.65,86.72 458.6,82.1 460.4,80.3 C462.2,78.5 464.7,76.97 466.7,77.2 C468.7,77.43 470.4,79.08 472.4,81.7 C474.4,84.32 476.48,88.93 478.7,92.9 C480.92,96.87 483.37,102.33 485.7,105.5 C488.03,108.67 490.6,111.32 492.7,111.9 C494.8,112.48 496.48,111.47 498.3,109 C500.12,106.53 501.78,101.65 503.6,97.1 C505.42,92.55 507.08,86.15 509.2,81.7 C511.32,77.25 514.13,72.7 516.3,70.4 C518.47,68.1 520.22,67.67 522.2,67.9 C524.18,68.13 526.38,69.5 528.2,71.8 C530.02,74.1 531.35,78.18 533.1,81.7 C534.85,85.22 536.95,89.52 538.7,92.9 C540.45,96.28 542.78,100.48 543.6,102" fill="none" stroke="#dc3a3a" stroke-width="1.2" stroke-linejoin="round" stroke-linecap="round" opacity="1.0"/>
</g>
<rect x="455.9" y="65.5" width="88.5" height="48.6" fill="none" stroke="#8e8e8e" stroke-width="1.35"/>
<line x1="455.9" y1="72.5" x2="457.1" y2="72.5" stroke="#8e8e8e" stroke-width="0.7"/>
<line x1="543.2" y1="72.5" x2="544.4" y2="72.5" stroke="#8e8e8e" stroke-width="0.7"/>
<line x1="455.9" y1="89.9" x2="457.1" y2="89.9" stroke="#8e8e8e" stroke-width="0.7"/>
<line x1="543.2" y1="89.9" x2="544.4" y2="89.9" stroke="#8e8e8e" stroke-width="0.7"/>
<line x1="455.9" y1="107.3" x2="457.1" y2="107.3" stroke="#8e8e8e" stroke-width="0.7"/>
<line x1="543.2" y1="107.3" x2="544.4" y2="107.3" stroke="#8e8e8e" stroke-width="0.7"/>
<line x1="500.15" y1="65.5" x2="500.15" y2="66.7" stroke="#8e8e8e" stroke-width="0.7"/>
<line x1="500.15" y1="112.9" x2="500.15" y2="114.1" stroke="#8e8e8e" stroke-width="0.7"/>
<rect x="486.4" y="135" width="44.6" height="19.4" fill="#fff" stroke="#555" stroke-width="0.7"/>
<line x1="491" y1="140" x2="509" y2="140" stroke="#e04848" stroke-width="1.5"/>
<line x1="491" y1="149" x2="509" y2="149" stroke="#5050e0" stroke-width="1.5"/>
<text x="511.2" y="140.2" font-family="Liberation Serif" font-size="7.2" font-weight="normal" fill="#111" text-anchor="start" dominant-baseline="central" stroke="#111" stroke-width="0.18" textLength="10.4" lengthAdjust="spacingAndGlyphs">PID</text>
<text x="511.2" y="149.5" font-family="Liberation Serif" font-size="7.2" font-weight="normal" fill="#111" text-anchor="start" dominant-baseline="central" stroke="#111" stroke-width="0.18" textLength="13.3" lengthAdjust="spacingAndGlyphs">MPC</text>
<text x="500.3" y="173.6" font-family="Liberation Serif" font-size="7.2" font-weight="bold" fill="#111" text-anchor="middle" dominant-baseline="central">(b) Joint positions tracking</text>
<g fill="none" stroke="#7a7a7a" stroke-width="0.75" stroke-linecap="round" stroke-linejoin="round">
<path d="M376,124.6 L381.2,119.2 L382.6,120.6 L377.4,126 Z M379.5,125.3 L383,125.3 M380.5,123.8 L383,123.8"/>
<path d="M387.9,118.6 L390,118.6 M388.3,118.6 L388.3,121.8 L386.4,125.5 L391.6,125.5 L389.7,121.8 L389.7,118.6"/>
<rect x="395.9" y="119" width="5" height="6.5"/><path d="M397,121.2 L399.8,121.2 M397,123.2 L399.8,123.2 M395.9,122.2 L394.8,122.2 M400.9,120.6 L401.8,120.6"/>
<path d="M405,125.6 L404.2,122.5 L404.2,120.8 L405.2,120.8 L405.2,119.3 L406.3,119.3 L406.3,118.8 L407.5,118.8 L407.5,119.3 L408.7,119.3 L408.7,120.3 L409.8,120.3 L409.8,123.5 L408.8,125.6 Z"/>
<circle cx="415.6" cy="121.4" r="2.6"/><path d="M417.5,123.4 L419.6,125.6 M414.3,121.4 L416.9,121.4 M415.6,120.1 L415.6,122.7"/>
<circle cx="425.3" cy="121.4" r="2.6"/><path d="M427.2,123.4 L429.3,125.6 M424,121.4 L426.6,121.4"/>
<path d="M432,122.2 L435.3,118.8 L438.6,122.2 M433,121.3 L433,125.6 L437.6,125.6 L437.6,121.3 M434.6,125.6 L434.6,123.5 L436,123.5 L436,125.6"/>
</g>
<text x="440.8" y="122" font-family="Liberation Sans" font-size="6.496" font-weight="normal" fill="#3c3c3c" text-anchor="start" dominant-baseline="central" transform="translate(440.8 122) scale(0.86 1) translate(-440.8 -122)">1</text>
<rect x="137.8" y="222.4" width="84.9" height="49" fill="#fff"/>
<line x1="137.8" y1="228.4" x2="222.7" y2="228.4" stroke="#e3e3e3" stroke-width="0.8"/>
<line x1="137.8" y1="241.4" x2="222.7" y2="241.4" stroke="#e3e3e3" stroke-width="0.8"/>
<line x1="137.8" y1="254.9" x2="222.7" y2="254.9" stroke="#e3e3e3" stroke-width="0.8"/>
<line x1="137.8" y1="268" x2="222.7" y2="268" stroke="#e3e3e3" stroke-width="0.8"/>
<line x1="180.25" y1="222.4" x2="180.25" y2="271.4" stroke="#e3e3e3" stroke-width="0.8"/>
<text x="134.4" y="229.5" font-family="Liberation Sans" font-size="6.496" font-weight="normal" fill="#3c3c3c" text-anchor="end" dominant-baseline="central" transform="translate(134.4 229.5) scale(0.86 1) translate(-134.4 -229.5)">2</text>
<text x="134.4" y="242.5" font-family="Liberation Sans" font-size="6.496" font-weight="normal" fill="#3c3c3c" text-anchor="end" dominant-baseline="central" transform="translate(134.4 242.5) scale(0.86 1) translate(-134.4 -242.5)">1</text>
<text x="134.4" y="256" font-family="Liberation Sans" font-size="6.496" font-weight="normal" fill="#3c3c3c" text-anchor="end" dominant-baseline="central" transform="translate(134.4 256) scale(0.86 1) translate(-134.4 -256)">0</text>
<text x="134.4" y="269.1" font-family="Liberation Sans" font-size="6.496" font-weight="normal" fill="#3c3c3c" text-anchor="end" dominant-baseline="central" transform="translate(134.4 269.1) scale(0.86 1) translate(-134.4 -269.1)">-1</text>
<text x="137.8" y="279.3" font-family="Liberation Sans" font-size="6.496" font-weight="normal" fill="#3c3c3c" text-anchor="middle" dominant-baseline="central" transform="translate(137.8 279.3) scale(0.86 1) translate(-137.8 -279.3)">0</text>
<text x="180.25" y="279.3" font-family="Liberation Sans" font-size="6.496" font-weight="normal" fill="#3c3c3c" text-anchor="middle" dominant-baseline="central" transform="translate(180.25 279.3) scale(0.86 1) translate(-180.25 -279.3)">5</text>
<text x="222.7" y="279.3" font-family="Liberation Sans" font-size="6.496" font-weight="normal" fill="#3c3c3c" text-anchor="middle" dominant-baseline="central" transform="translate(222.7 279.3) scale(0.86 1) translate(-222.7 -279.3)">10</text>
<text x="126.8" y="245.9" font-family="Liberation Serif" font-size="7.5" font-weight="bold" fill="#111" text-anchor="middle" dominant-baseline="central" transform="rotate(-90 126.8 245.9)" textLength="38" lengthAdjust="spacingAndGlyphs">dot&#952;1 (rad/s)</text>
<clipPath id="cc1"><rect x="137.8" y="222.4" width="84.9" height="49"/></clipPath>
<g clip-path="url(#cc1)">
<path d="M137.9,254.5 L138.2,225 L138.9,252 L140,239.5 L140.8,252 L141.8,238 L142.7,250 L143.5,246 L144.3,243.5 L145.3,247.5 L146.4,244.5 L147.6,249.5 L149.5,250 L151.5,252 L154.5,256 L158,261.5 L162,266.5 L165.6,269.3 L169.5,268.5 L174.7,263.5 L180.3,253.1 L186.4,244.7 L192,239.8 L196.3,241.2 L201.2,246.1 L206.1,255.9 L211.7,264 L217.3,268.6 L222.7,268.2" fill="none" stroke="#dc3a3a" stroke-width="1.2" stroke-linejoin="round" stroke-linecap="round" opacity="1.0"/>
<path d="M137.9,254.5 C138.17,253.92 138.95,252.25 139.5,251 C140.05,249.75 140.62,248.27 141.2,247 C141.78,245.73 142.33,244.32 143,243.4 C143.67,242.48 144.47,241.67 145.2,241.5 C145.93,241.33 146.67,241.72 147.4,242.4 C148.13,243.08 148.55,243.62 149.6,245.6 C150.65,247.58 152.32,251.65 153.7,254.3 C155.08,256.95 156.27,259.58 157.9,261.5 C159.53,263.42 161.63,264.85 163.5,265.8 C165.37,266.75 167.23,267.67 169.1,267.2 C170.97,266.73 172.83,265.35 174.7,263 C176.57,260.65 178.75,255.8 180.3,253.1 C181.85,250.4 182.72,248.4 184,246.8 C185.28,245.2 186.67,244.2 188,243.5 C189.33,242.8 190.5,242.75 192,242.6 C193.5,242.45 195.47,242.02 197,242.6 C198.53,243.18 199.68,243.88 201.2,246.1 C202.72,248.32 204.35,252.98 206.1,255.9 C207.85,258.82 209.83,261.77 211.7,263.6 C213.57,265.43 215.47,266.18 217.3,266.9 C219.13,267.62 221.8,267.73 222.7,267.9" fill="none" stroke="#2828d2" stroke-width="1.9" stroke-linejoin="round" stroke-linecap="round" opacity="1.0"/>
</g>
<rect x="137.8" y="222.4" width="84.9" height="49" fill="none" stroke="#8e8e8e" stroke-width="1.35"/>
<line x1="137.8" y1="228.4" x2="139" y2="228.4" stroke="#8e8e8e" stroke-width="0.7"/>
<line x1="221.5" y1="228.4" x2="222.7" y2="228.4" stroke="#8e8e8e" stroke-width="0.7"/>
<line x1="137.8" y1="241.4" x2="139" y2="241.4" stroke="#8e8e8e" stroke-width="0.7"/>
<line x1="221.5" y1="241.4" x2="222.7" y2="241.4" stroke="#8e8e8e" stroke-width="0.7"/>
<line x1="137.8" y1="254.9" x2="139" y2="254.9" stroke="#8e8e8e" stroke-width="0.7"/>
<line x1="221.5" y1="254.9" x2="222.7" y2="254.9" stroke="#8e8e8e" stroke-width="0.7"/>
<line x1="137.8" y1="268" x2="139" y2="268" stroke="#8e8e8e" stroke-width="0.7"/>
<line x1="221.5" y1="268" x2="222.7" y2="268" stroke="#8e8e8e" stroke-width="0.7"/>
<line x1="180.25" y1="222.4" x2="180.25" y2="223.6" stroke="#8e8e8e" stroke-width="0.7"/>
<line x1="180.25" y1="270.2" x2="180.25" y2="271.4" stroke="#8e8e8e" stroke-width="0.7"/>
<rect x="242.2" y="223.9" width="77.9" height="47.4" fill="#fff"/>
<line x1="242.2" y1="229.7" x2="320.1" y2="229.7" stroke="#e3e3e3" stroke-width="0.8"/>
<line x1="242.2" y1="247.4" x2="320.1" y2="247.4" stroke="#e3e3e3" stroke-width="0.8"/>
<line x1="242.2" y1="264.6" x2="320.1" y2="264.6" stroke="#e3e3e3" stroke-width="0.8"/>
<line x1="281.15" y1="223.9" x2="281.15" y2="271.3" stroke="#e3e3e3" stroke-width="0.8"/>
<text x="238.8" y="230.8" font-family="Liberation Sans" font-size="6.496" font-weight="normal" fill="#3c3c3c" text-anchor="end" dominant-baseline="central" transform="translate(238.8 230.8) scale(0.86 1) translate(-238.8 -230.8)">2</text>
<text x="238.8" y="248.5" font-family="Liberation Sans" font-size="6.496" font-weight="normal" fill="#3c3c3c" text-anchor="end" dominant-baseline="central" transform="translate(238.8 248.5) scale(0.86 1) translate(-238.8 -248.5)">0</text>
<text x="238.8" y="265.7" font-family="Liberation Sans" font-size="6.496" font-weight="normal" fill="#3c3c3c" text-anchor="end" dominant-baseline="central" transform="translate(238.8 265.7) scale(0.86 1) translate(-238.8 -265.7)">-2</text>
<text x="242.2" y="279" font-family="Liberation Sans" font-size="6.496" font-weight="normal" fill="#3c3c3c" text-anchor="middle" dominant-baseline="central" transform="translate(242.2 279) scale(0.86 1) translate(-242.2 -279)">0</text>
<text x="281.15" y="279" font-family="Liberation Sans" font-size="6.496" font-weight="normal" fill="#3c3c3c" text-anchor="middle" dominant-baseline="central" transform="translate(281.15 279) scale(0.86 1) translate(-281.15 -279)">5</text>
<text x="320.1" y="279" font-family="Liberation Sans" font-size="6.496" font-weight="normal" fill="#3c3c3c" text-anchor="middle" dominant-baseline="central" transform="translate(320.1 279) scale(0.86 1) translate(-320.1 -279)">10</text>
<text x="229.4" y="247.7" font-family="Liberation Serif" font-size="7.5" font-weight="bold" fill="#111" text-anchor="middle" dominant-baseline="central" transform="rotate(-90 229.4 247.7)" textLength="37" lengthAdjust="spacingAndGlyphs">dot&#952;4(rad/s)</text>
<clipPath id="cc4"><rect x="242.2" y="223.9" width="77.9" height="47.4"/></clipPath>
<g clip-path="url(#cc4)">
<path d="M242.2,246.5 C242.43,245.68 243.18,242.02 243.6,241.6 C244.02,241.18 242.97,243.02 244.7,244 C246.43,244.98 250.8,246.33 254,247.5 C257.2,248.67 260.72,251.12 263.9,251 C267.08,250.88 270.75,247.72 273.1,246.8 C275.45,245.88 276.02,245.97 278,245.5 C279.98,245.03 282.67,244.42 285,244 C287.33,243.58 289.67,242.78 292,243 C294.33,243.22 296.67,244.43 299,245.3 C301.33,246.17 303.93,247.33 306,248.2 C308.07,249.07 309.98,250.38 311.4,250.5 C312.82,250.62 313.05,248.98 314.5,248.9 C315.95,248.82 319.17,249.82 320.1,250" fill="none" stroke="#dc3a3a" stroke-width="1.3" stroke-linejoin="round" stroke-linecap="round" opacity="1.0"/>
<path d="M242.4,246 L243.6,241.2 L244.8,244.6 Z" fill="#dc3a3a" stroke="#dc3a3a" stroke-width="0.8"/>
<line x1="263.9" y1="241" x2="263.9" y2="260.2" stroke="#dc3a3a" stroke-width="1.3"/>
<line x1="311.4" y1="232" x2="311.4" y2="269.3" stroke="#dc3a3a" stroke-width="1.3"/>
<path d="M242.2,226.4 C242.38,227.22 242.88,230.25 243.3,231.3 C243.72,232.35 244.3,231.18 244.7,232.7 C245.1,234.22 245.3,237.93 245.7,240.4 C246.1,242.87 246.52,245.38 247.1,247.5 C247.68,249.62 248.38,251.75 249.2,253.1 C250.02,254.45 250.83,255.13 252,255.6 C253.17,256.07 254.57,256.2 256.2,255.9 C257.83,255.6 259.92,255.08 261.8,253.8 C263.68,252.52 265.62,250.32 267.5,248.2 C269.38,246.08 271.23,242.87 273.1,241.1 C274.97,239.33 277.18,238.18 278.7,237.6 C280.22,237.02 280.68,237.13 282.2,237.6 C283.72,238.07 285.93,238.98 287.8,240.4 C289.67,241.82 291.53,244.22 293.4,246.1 C295.27,247.98 297.13,250.18 299,251.7 C300.87,253.22 303.07,254.55 304.6,255.2 C306.13,255.85 306.78,255.95 308.2,255.6 C309.62,255.25 311.12,254.93 313.1,253.1 C315.08,251.27 318.93,246.02 320.1,244.6" fill="none" stroke="#2828d2" stroke-width="1.7" stroke-linejoin="round" stroke-linecap="round" opacity="1.0"/>
</g>
<rect x="242.2" y="223.9" width="77.9" height="47.4" fill="none" stroke="#8e8e8e" stroke-width="1.35"/>
<line x1="242.2" y1="229.7" x2="243.4" y2="229.7" stroke="#8e8e8e" stroke-width="0.7"/>
<line x1="318.9" y1="229.7" x2="320.1" y2="229.7" stroke="#8e8e8e" stroke-width="0.7"/>
<line x1="242.2" y1="247.4" x2="243.4" y2="247.4" stroke="#8e8e8e" stroke-width="0.7"/>
<line x1="318.9" y1="247.4" x2="320.1" y2="247.4" stroke="#8e8e8e" stroke-width="0.7"/>
<line x1="242.2" y1="264.6" x2="243.4" y2="264.6" stroke="#8e8e8e" stroke-width="0.7"/>
<line x1="318.9" y1="264.6" x2="320.1" y2="264.6" stroke="#8e8e8e" stroke-width="0.7"/>
<line x1="281.15" y1="223.9" x2="281.15" y2="225.1" stroke="#8e8e8e" stroke-width="0.7"/>
<line x1="281.15" y1="270.1" x2="281.15" y2="271.3" stroke="#8e8e8e" stroke-width="0.7"/>
<rect x="137.8" y="282.6" width="84.8" height="49.2" fill="#fff"/>
<line x1="137.8" y1="287.6" x2="222.6" y2="287.6" stroke="#e3e3e3" stroke-width="0.8"/>
<line x1="137.8" y1="300" x2="222.6" y2="300" stroke="#e3e3e3" stroke-width="0.8"/>
<line x1="137.8" y1="312.3" x2="222.6" y2="312.3" stroke="#e3e3e3" stroke-width="0.8"/>
<line x1="137.8" y1="324.2" x2="222.6" y2="324.2" stroke="#e3e3e3" stroke-width="0.8"/>
<line x1="180.2" y1="282.6" x2="180.2" y2="331.8" stroke="#e3e3e3" stroke-width="0.8"/>
<text x="134.4" y="288.7" font-family="Liberation Sans" font-size="6.496" font-weight="normal" fill="#3c3c3c" text-anchor="end" dominant-baseline="central" transform="translate(134.4 288.7) scale(0.86 1) translate(-134.4 -288.7)">2</text>
<text x="134.4" y="301.1" font-family="Liberation Sans" font-size="6.496" font-weight="normal" fill="#3c3c3c" text-anchor="end" dominant-baseline="central" transform="translate(134.4 301.1) scale(0.86 1) translate(-134.4 -301.1)">1</text>
<text x="134.4" y="313.4" font-family="Liberation Sans" font-size="6.496" font-weight="normal" fill="#3c3c3c" text-anchor="end" dominant-baseline="central" transform="translate(134.4 313.4) scale(0.86 1) translate(-134.4 -313.4)">0</text>
<text x="134.4" y="325.3" font-family="Liberation Sans" font-size="6.496" font-weight="normal" fill="#3c3c3c" text-anchor="end" dominant-baseline="central" transform="translate(134.4 325.3) scale(0.86 1) translate(-134.4 -325.3)">-1</text>
<text x="137.8" y="339.2" font-family="Liberation Sans" font-size="6.496" font-weight="normal" fill="#3c3c3c" text-anchor="middle" dominant-baseline="central" transform="translate(137.8 339.2) scale(0.86 1) translate(-137.8 -339.2)">0</text>
<text x="180.2" y="339.2" font-family="Liberation Sans" font-size="6.496" font-weight="normal" fill="#3c3c3c" text-anchor="middle" dominant-baseline="central" transform="translate(180.2 339.2) scale(0.86 1) translate(-180.2 -339.2)">5</text>
<text x="222.6" y="339.2" font-family="Liberation Sans" font-size="6.496" font-weight="normal" fill="#3c3c3c" text-anchor="middle" dominant-baseline="central" transform="translate(222.6 339.2) scale(0.86 1) translate(-222.6 -339.2)">10</text>
<text x="126.8" y="305.9" font-family="Liberation Serif" font-size="7.5" font-weight="bold" fill="#111" text-anchor="middle" dominant-baseline="central" transform="rotate(-90 126.8 305.9)" textLength="37" lengthAdjust="spacingAndGlyphs">dot&#952;2 (rad/s)</text>
<clipPath id="cc2"><rect x="137.8" y="282.6" width="84.8" height="49.2"/></clipPath>
<g clip-path="url(#cc2)">
<path d="M137.8,312.5 L138.7,285.4 L139.6,290 L140.8,311.8 L141.6,312 L142.8,304.4 L143.6,307 L144.8,314.6 L147.5,317.3 L150,321.5 L153.6,326.1 L158.4,324.7 L161.8,319.3" fill="none" stroke="#dc3a3a" stroke-width="1.3" stroke-linejoin="round" stroke-linecap="round" opacity="1.0"/>
<path d="M161.8,307.8 L161.8,319.3 M161.8,312.3 L169,312.3 M213,307.1 L213,323.4 M213,312.3 L222.6,312.3" fill="none" stroke="#dc3a3a" stroke-width="1.25"/>
<path d="M169,312.3 C169.22,311.75 169.83,310.13 170.3,309 C170.77,307.87 171.08,306.87 171.8,305.5 C172.52,304.13 173.7,302.12 174.6,300.8 C175.5,299.48 176.3,298.43 177.2,297.6 C178.1,296.77 179.07,296 180,295.8 C180.93,295.6 181.78,295.8 182.8,296.4 C183.82,297 184.63,297.38 186.1,299.4 C187.57,301.42 189.57,304.95 191.6,308.5 C193.63,312.05 196.28,317.55 198.3,320.7 C200.32,323.85 202.23,325.93 203.7,327.4 C205.17,328.87 205.97,329.47 207.1,329.5 C208.23,329.53 209.52,328.62 210.5,327.6 C211.48,326.58 212.58,324.1 213,323.4" fill="none" stroke="#dc3a3a" stroke-width="1.3" stroke-linejoin="round" stroke-linecap="round" opacity="1.0"/>
<path d="M137.8,312.5 C137.95,309.8 138.38,300.13 138.7,296.3 C139.02,292.47 139.23,289.73 139.7,289.5 C140.17,289.27 140.87,292.2 141.5,294.9 C142.13,297.6 142.83,302.42 143.5,305.7 C144.17,308.98 144.72,312.1 145.5,314.6 C146.28,317.1 146.95,319.07 148.2,320.7 C149.45,322.33 151.42,323.95 153,324.4 C154.58,324.85 156.12,324.25 157.7,323.4 C159.28,322.55 160.8,320.88 162.5,319.3 C164.2,317.72 166.1,316.05 167.9,313.9 C169.7,311.75 171.87,308.33 173.3,306.4 C174.73,304.47 175.55,303.47 176.5,302.3 C177.45,301.13 178.22,300.05 179,299.4 C179.78,298.75 180.45,298.42 181.2,298.4 C181.95,298.38 182.68,298.63 183.5,299.3 C184.32,299.97 184.75,300.65 186.1,302.4 C187.45,304.15 189.57,307.22 191.6,309.8 C193.63,312.38 196.28,315.63 198.3,317.9 C200.32,320.17 202.12,322.15 203.7,323.4 C205.28,324.65 206.22,325.63 207.8,325.4 C209.38,325.17 211.38,323.47 213.2,322 C215.02,320.53 217.12,318.18 218.7,316.6 C220.28,315.02 222.03,313.18 222.7,312.5" fill="none" stroke="#2828d2" stroke-width="1.3" stroke-linejoin="round" stroke-linecap="round" opacity="1.0"/>
</g>
<rect x="137.8" y="282.6" width="84.8" height="49.2" fill="none" stroke="#8e8e8e" stroke-width="1.35"/>
<line x1="137.8" y1="287.6" x2="139" y2="287.6" stroke="#8e8e8e" stroke-width="0.7"/>
<line x1="221.4" y1="287.6" x2="222.6" y2="287.6" stroke="#8e8e8e" stroke-width="0.7"/>
<line x1="137.8" y1="300" x2="139" y2="300" stroke="#8e8e8e" stroke-width="0.7"/>
<line x1="221.4" y1="300" x2="222.6" y2="300" stroke="#8e8e8e" stroke-width="0.7"/>
<line x1="137.8" y1="312.3" x2="139" y2="312.3" stroke="#8e8e8e" stroke-width="0.7"/>
<line x1="221.4" y1="312.3" x2="222.6" y2="312.3" stroke="#8e8e8e" stroke-width="0.7"/>
<line x1="137.8" y1="324.2" x2="139" y2="324.2" stroke="#8e8e8e" stroke-width="0.7"/>
<line x1="221.4" y1="324.2" x2="222.6" y2="324.2" stroke="#8e8e8e" stroke-width="0.7"/>
<line x1="180.2" y1="282.6" x2="180.2" y2="283.8" stroke="#8e8e8e" stroke-width="0.7"/>
<line x1="180.2" y1="330.6" x2="180.2" y2="331.8" stroke="#8e8e8e" stroke-width="0.7"/>
<rect x="242.5" y="283.5" width="79.2" height="48.6" fill="#fff"/>
<line x1="242.5" y1="296.1" x2="321.7" y2="296.1" stroke="#e3e3e3" stroke-width="0.8"/>
<line x1="242.5" y1="308.5" x2="321.7" y2="308.5" stroke="#e3e3e3" stroke-width="0.8"/>
<line x1="242.5" y1="320.6" x2="321.7" y2="320.6" stroke="#e3e3e3" stroke-width="0.8"/>
<line x1="282.1" y1="283.5" x2="282.1" y2="332.1" stroke="#e3e3e3" stroke-width="0.8"/>
<text x="239.1" y="297.2" font-family="Liberation Sans" font-size="6.496" font-weight="normal" fill="#3c3c3c" text-anchor="end" dominant-baseline="central" transform="translate(239.1 297.2) scale(0.86 1) translate(-239.1 -297.2)">0.5</text>
<text x="239.1" y="309.6" font-family="Liberation Sans" font-size="6.496" font-weight="normal" fill="#3c3c3c" text-anchor="end" dominant-baseline="central" transform="translate(239.1 309.6) scale(0.86 1) translate(-239.1 -309.6)">0</text>
<text x="239.1" y="321.7" font-family="Liberation Sans" font-size="6.496" font-weight="normal" fill="#3c3c3c" text-anchor="end" dominant-baseline="central" transform="translate(239.1 321.7) scale(0.86 1) translate(-239.1 -321.7)">-0.5</text>
<text x="242.5" y="339.4" font-family="Liberation Sans" font-size="6.496" font-weight="normal" fill="#3c3c3c" text-anchor="middle" dominant-baseline="central" transform="translate(242.5 339.4) scale(0.86 1) translate(-242.5 -339.4)">0</text>
<text x="282.1" y="339.4" font-family="Liberation Sans" font-size="6.496" font-weight="normal" fill="#3c3c3c" text-anchor="middle" dominant-baseline="central" transform="translate(282.1 339.4) scale(0.86 1) translate(-282.1 -339.4)">5</text>
<text x="321.7" y="339.4" font-family="Liberation Sans" font-size="6.496" font-weight="normal" fill="#3c3c3c" text-anchor="middle" dominant-baseline="central" transform="translate(321.7 339.4) scale(0.86 1) translate(-321.7 -339.4)">10</text>
<text x="229.4" y="306.8" font-family="Liberation Serif" font-size="7.5" font-weight="bold" fill="#111" text-anchor="middle" dominant-baseline="central" transform="rotate(-90 229.4 306.8)" textLength="36.3" lengthAdjust="spacingAndGlyphs">dot&#952;5(rad/s)</text>
<clipPath id="cc5"><rect x="242.5" y="283.5" width="79.2" height="48.6"/></clipPath>
<g clip-path="url(#cc5)">
<path d="M242.7,305.8 C243.5,305.12 245.35,302.65 247.5,301.7 C249.65,300.75 252.88,299.65 255.6,300.1 C258.32,300.55 261.3,302.32 263.8,304.4 C266.3,306.48 268.12,310.12 270.6,312.6 C273.08,315.08 276.33,318.63 278.7,319.3 C281.07,319.97 282.65,318.17 284.8,316.6 C286.95,315.03 289.12,312.15 291.6,309.9 C294.08,307.65 297.1,304.68 299.7,303.1 C302.3,301.52 304.72,300.18 307.2,300.4 C309.68,300.62 312.18,302.72 314.6,304.4 C317.02,306.08 320.52,309.48 321.7,310.5" fill="none" stroke="#dc3a3a" stroke-width="1.5" stroke-linejoin="round" stroke-linecap="round" opacity="1.0"/>
<path d="M242.7,308.5 L244.8,296.3 L246.8,286.3 L250.2,287.3 L251.6,288.1 L255.6,300.4 L259.7,311.2 L265.1,328.8 L277.3,328.8 L278.7,323.4 L281.4,311.2 L284,300.4 L286.1,294.9 L290.2,286.8 L302.4,286.8 L305.1,296.3 L309.2,309.9 L314.6,328.8 L321.7,328.8" fill="none" stroke="#2828d2" stroke-width="1.9" stroke-linejoin="round"/>
</g>
<rect x="242.5" y="283.5" width="79.2" height="48.6" fill="none" stroke="#8e8e8e" stroke-width="1.35"/>
<line x1="242.5" y1="296.1" x2="243.7" y2="296.1" stroke="#8e8e8e" stroke-width="0.7"/>
<line x1="320.5" y1="296.1" x2="321.7" y2="296.1" stroke="#8e8e8e" stroke-width="0.7"/>
<line x1="242.5" y1="308.5" x2="243.7" y2="308.5" stroke="#8e8e8e" stroke-width="0.7"/>
<line x1="320.5" y1="308.5" x2="321.7" y2="308.5" stroke="#8e8e8e" stroke-width="0.7"/>
<line x1="242.5" y1="320.6" x2="243.7" y2="320.6" stroke="#8e8e8e" stroke-width="0.7"/>
<line x1="320.5" y1="320.6" x2="321.7" y2="320.6" stroke="#8e8e8e" stroke-width="0.7"/>
<line x1="282.1" y1="283.5" x2="282.1" y2="284.7" stroke="#8e8e8e" stroke-width="0.7"/>
<line x1="282.1" y1="330.9" x2="282.1" y2="332.1" stroke="#8e8e8e" stroke-width="0.7"/>
<rect x="136.4" y="343.3" width="85.9" height="50.5" fill="#fff"/>
<line x1="136.4" y1="345.4" x2="222.3" y2="345.4" stroke="#e3e3e3" stroke-width="0.8"/>
<line x1="136.4" y1="363.4" x2="222.3" y2="363.4" stroke="#e3e3e3" stroke-width="0.8"/>
<line x1="136.4" y1="381.6" x2="222.3" y2="381.6" stroke="#e3e3e3" stroke-width="0.8"/>
<line x1="179.35" y1="343.3" x2="179.35" y2="393.8" stroke="#e3e3e3" stroke-width="0.8"/>
<text x="133" y="346.5" font-family="Liberation Sans" font-size="6.496" font-weight="normal" fill="#3c3c3c" text-anchor="end" dominant-baseline="central" transform="translate(133 346.5) scale(0.86 1) translate(-133 -346.5)">4</text>
<text x="133" y="364.5" font-family="Liberation Sans" font-size="6.496" font-weight="normal" fill="#3c3c3c" text-anchor="end" dominant-baseline="central" transform="translate(133 364.5) scale(0.86 1) translate(-133 -364.5)">2</text>
<text x="133" y="382.7" font-family="Liberation Sans" font-size="6.496" font-weight="normal" fill="#3c3c3c" text-anchor="end" dominant-baseline="central" transform="translate(133 382.7) scale(0.86 1) translate(-133 -382.7)">0</text>
<text x="136.4" y="401.6" font-family="Liberation Sans" font-size="6.496" font-weight="normal" fill="#3c3c3c" text-anchor="middle" dominant-baseline="central" transform="translate(136.4 401.6) scale(0.86 1) translate(-136.4 -401.6)">0</text>
<text x="179.35" y="401.6" font-family="Liberation Sans" font-size="6.496" font-weight="normal" fill="#3c3c3c" text-anchor="middle" dominant-baseline="central" transform="translate(179.35 401.6) scale(0.86 1) translate(-179.35 -401.6)">5</text>
<text x="222.3" y="401.6" font-family="Liberation Sans" font-size="6.496" font-weight="normal" fill="#3c3c3c" text-anchor="middle" dominant-baseline="central" transform="translate(222.3 401.6) scale(0.86 1) translate(-222.3 -401.6)">10</text>
<text x="127.4" y="368.8" font-family="Liberation Serif" font-size="7.5" font-weight="bold" fill="#111" text-anchor="middle" dominant-baseline="central" transform="rotate(-90 127.4 368.8)" textLength="34.7" lengthAdjust="spacingAndGlyphs">dot&#952;3(rad/s)</text>
<clipPath id="cc3"><rect x="136.4" y="343.3" width="85.9" height="50.5"/></clipPath>
<g clip-path="url(#cc3)">
<path d="M136.2,375.9 C136.37,376.42 136.82,377.58 137.2,379 C137.58,380.42 138.08,384.48 138.5,384.4 C138.92,384.32 139.22,379.3 139.7,378.5 C140.18,377.7 140.83,379.6 141.4,379.6 C141.97,379.6 142.25,378.97 143.1,378.5 C143.95,378.03 145.22,377 146.5,376.8 C147.78,376.6 149.23,376.93 150.8,377.3 C152.37,377.67 154.25,378.38 155.9,379 C157.55,379.62 158.98,380.23 160.7,381 C162.42,381.77 164.15,382.6 166.2,383.6 C168.25,384.6 170.72,386.2 173,387 C175.28,387.8 177.62,388.4 179.9,388.4 C182.18,388.4 184.43,387.95 186.7,387 C188.97,386.05 191.22,384.2 193.5,382.7 C195.78,381.2 198.12,379.28 200.4,378 C202.68,376.72 205.22,375.35 207.2,375 C209.18,374.65 210.58,375.23 212.3,375.9 C214.02,376.57 215.83,377.95 217.5,379 C219.17,380.05 221.5,381.67 222.3,382.2" fill="none" stroke="#dc3a3a" stroke-width="1.3" stroke-linejoin="round" stroke-linecap="round" opacity="1.0"/>
<line x1="160.8" y1="361.8" x2="160.8" y2="391.7" stroke="#dc3a3a" stroke-width="1.3"/>
<line x1="213.2" y1="345.3" x2="213.2" y2="386.3" stroke="#dc3a3a" stroke-width="1.3"/>
<path d="M136.4,380.7 C136.83,380 137.9,377.72 139,376.5 C140.1,375.28 141.6,373.52 143,373.4 C144.4,373.28 145.72,374.35 147.4,375.8 C149.08,377.25 150.98,380.1 153.1,382.1 C155.22,384.1 157.88,386.5 160.1,387.8 C162.32,389.1 164.3,389.9 166.4,389.9 C168.5,389.9 170.72,389.1 172.7,387.8 C174.68,386.5 176.82,383.75 178.3,382.1 C179.78,380.45 180.12,379.23 181.6,377.9 C183.08,376.57 185.2,374.98 187.2,374.1 C189.2,373.22 191.48,372.43 193.6,372.6 C195.72,372.77 197.92,373.75 199.9,375.1 C201.88,376.45 203.63,378.83 205.5,380.7 C207.37,382.57 209.23,384.88 211.1,386.3 C212.97,387.72 214.83,388.6 216.7,389.2 C218.57,389.8 221.37,389.78 222.3,389.9" fill="none" stroke="#2828d2" stroke-width="1.6" stroke-linejoin="round" stroke-linecap="round" opacity="1.0"/>
</g>
<rect x="136.4" y="343.3" width="85.9" height="50.5" fill="none" stroke="#8e8e8e" stroke-width="1.35"/>
<line x1="136.4" y1="345.4" x2="137.6" y2="345.4" stroke="#8e8e8e" stroke-width="0.7"/>
<line x1="221.1" y1="345.4" x2="222.3" y2="345.4" stroke="#8e8e8e" stroke-width="0.7"/>
<line x1="136.4" y1="363.4" x2="137.6" y2="363.4" stroke="#8e8e8e" stroke-width="0.7"/>
<line x1="221.1" y1="363.4" x2="222.3" y2="363.4" stroke="#8e8e8e" stroke-width="0.7"/>
<line x1="136.4" y1="381.6" x2="137.6" y2="381.6" stroke="#8e8e8e" stroke-width="0.7"/>
<line x1="221.1" y1="381.6" x2="222.3" y2="381.6" stroke="#8e8e8e" stroke-width="0.7"/>
<line x1="179.35" y1="343.3" x2="179.35" y2="344.5" stroke="#8e8e8e" stroke-width="0.7"/>
<line x1="179.35" y1="392.6" x2="179.35" y2="393.8" stroke="#8e8e8e" stroke-width="0.7"/>
<text x="179.5" y="408.3" font-family="Liberation Serif" font-size="7.0" font-weight="bold" fill="#111" text-anchor="middle" dominant-baseline="central">Time (seconds)</text>
<rect x="264.2" y="350.5" width="36.2" height="18.2" fill="#fff" stroke="#555" stroke-width="0.7"/>
<line x1="266.4" y1="355.5" x2="282.7" y2="355.5" stroke="#e04848" stroke-width="1.5"/>
<line x1="266.4" y1="363.6" x2="282.7" y2="363.6" stroke="#5050e0" stroke-width="1.5"/>
<text x="284.9" y="355.1" font-family="Liberation Serif" font-size="7.0" font-weight="normal" fill="#111" text-anchor="start" dominant-baseline="central" stroke="#111" stroke-width="0.18" textLength="10.6" lengthAdjust="spacingAndGlyphs">PID</text>
<text x="284.9" y="363.3" font-family="Liberation Serif" font-size="7.0" font-weight="normal" fill="#111" text-anchor="start" dominant-baseline="central" stroke="#111" stroke-width="0.18" textLength="13.9" lengthAdjust="spacingAndGlyphs">MPC</text>
<text x="278.2" y="389.5" font-family="Liberation Serif" font-size="6.6" font-weight="bold" fill="#111" text-anchor="middle" dominant-baseline="central">(c) Joint velocity tracking</text>
<rect x="347.2" y="204.6" width="87.3" height="52.4" fill="#fff"/>
<line x1="347.2" y1="218.7" x2="434.5" y2="218.7" stroke="#e3e3e3" stroke-width="0.8"/>
<line x1="347.2" y1="237.6" x2="434.5" y2="237.6" stroke="#e3e3e3" stroke-width="0.8"/>
<line x1="347.2" y1="256.4" x2="434.5" y2="256.4" stroke="#e3e3e3" stroke-width="0.8"/>
<line x1="367.4" y1="204.6" x2="367.4" y2="257" stroke="#e3e3e3" stroke-width="0.8"/>
<line x1="387.6" y1="204.6" x2="387.6" y2="257" stroke="#e3e3e3" stroke-width="0.8"/>
<line x1="407.8" y1="204.6" x2="407.8" y2="257" stroke="#e3e3e3" stroke-width="0.8"/>
<line x1="428" y1="204.6" x2="428" y2="257" stroke="#e3e3e3" stroke-width="0.8"/>
<text x="344" y="219.8" font-family="Liberation Sans" font-size="6.496" font-weight="normal" fill="#3c3c3c" text-anchor="end" dominant-baseline="central" transform="translate(344 219.8) scale(0.86 1) translate(-344 -219.8)">20</text>
<text x="344" y="238.7" font-family="Liberation Sans" font-size="6.496" font-weight="normal" fill="#3c3c3c" text-anchor="end" dominant-baseline="central" transform="translate(344 238.7) scale(0.86 1) translate(-344 -238.7)">10</text>
<text x="344" y="257.5" font-family="Liberation Sans" font-size="6.496" font-weight="normal" fill="#3c3c3c" text-anchor="end" dominant-baseline="central" transform="translate(344 257.5) scale(0.86 1) translate(-344 -257.5)">0</text>
<text x="347.2" y="265.5" font-family="Liberation Sans" font-size="6.496" font-weight="normal" fill="#3c3c3c" text-anchor="middle" dominant-baseline="central" transform="translate(347.2 265.5) scale(0.86 1) translate(-347.2 -265.5)">0</text>
<text x="367.4" y="265.5" font-family="Liberation Sans" font-size="6.496" font-weight="normal" fill="#3c3c3c" text-anchor="middle" dominant-baseline="central" transform="translate(367.4 265.5) scale(0.86 1) translate(-367.4 -265.5)">2</text>
<text x="387.6" y="265.5" font-family="Liberation Sans" font-size="6.496" font-weight="normal" fill="#3c3c3c" text-anchor="middle" dominant-baseline="central" transform="translate(387.6 265.5) scale(0.86 1) translate(-387.6 -265.5)">4</text>
<text x="407.8" y="265.5" font-family="Liberation Sans" font-size="6.496" font-weight="normal" fill="#3c3c3c" text-anchor="middle" dominant-baseline="central" transform="translate(407.8 265.5) scale(0.86 1) translate(-407.8 -265.5)">6</text>
<text x="428" y="265.5" font-family="Liberation Sans" font-size="6.496" font-weight="normal" fill="#3c3c3c" text-anchor="middle" dominant-baseline="central" transform="translate(428 265.5) scale(0.86 1) translate(-428 -265.5)">8</text>
<text x="335" y="231.7" font-family="Liberation Serif" font-size="7.5" font-weight="bold" fill="#111" text-anchor="middle" dominant-baseline="central" transform="rotate(-90 335 231.7)" textLength="22.7" lengthAdjust="spacingAndGlyphs">U1(Nm)</text>
<clipPath id="cd1"><rect x="347.2" y="204.6" width="87.3" height="52.4"/></clipPath>
<g clip-path="url(#cd1)">
<path d="M347.2,257 L347.2,250.5 L347.3,227.8 L348.7,227.8 L348.9,250.5 L349.2,250.5 L349.3,232.3 L350.7,232.3 L350.9,250.5 L351.4,250.5 L351.5,239 L352.9,239 L353.1,250.5 L353.5,250.5 L353.6,243.5 L355,243.5 L355.2,250.5 L355.5,250.5 L355.6,246.5 L357,246.5 L357.2,250.5 L357.5,250.5 L357.6,248.5 L359,248.5 L359.2,250.5 L359.5,250.5 L359.6,250.8 L361,250.8 L361.2,250.5 L361,253.2 L364,253 L367,252.3 L371,251.8 L375,253.2 L379.5,255.2 L384,254.5 L390.8,252 L396.8,254.5 L402,252 L407,253.8 L412.4,255.6 L416,254 L421,251.8 L425,253 L429.6,254.5 L433,252.2 L434.5,252 L434.5,257 Z" fill="#dc3a3a" stroke="#dc3a3a" stroke-width="0.4"/>
<path d="M347.4,249 L348.5,238 L349.8,227 L351,218.5 L352,213.8 L352.8,212.4 L353.8,213.8 L355,218.5 L357,226.5 L359.5,235.5 L362.5,245 L365.4,254.4 L366.51,249.48 L367.63,244.41 L368.74,239.47 L369.86,234.7 L370.97,230.16 L372.08,225.91 L373.2,222 L374.31,218.47 L375.42,215.37 L376.54,212.72 L377.65,210.57 L378.77,208.93 L379.88,207.82 L380.99,207.27 L382.11,207.27 L383.22,207.82 L384.33,208.93 L385.45,210.57 L386.56,212.72 L387.68,215.37 L388.79,218.47 L389.9,222 L391.02,225.91 L392.13,230.16 L393.24,234.7 L394.36,239.47 L395.47,244.41 L396.59,249.48 L397.7,254.6 L398.77,249.76 L399.84,244.97 L400.92,240.3 L401.99,235.79 L403.06,231.5 L404.13,227.49 L405.21,223.79 L406.28,220.46 L407.35,217.52 L408.42,215.02 L409.5,212.98 L410.57,211.43 L411.64,210.39 L412.71,209.87 L413.79,209.87 L414.86,210.39 L415.93,211.43 L417,212.98 L418.08,215.02 L419.15,217.52 L420.22,220.46 L421.29,223.79 L422.37,227.49 L423.44,231.5 L424.51,235.79 L425.58,240.3 L426.66,244.97 L427.73,249.76 L428.8,254.6 L429.49,251.55 L430.18,248.52 L430.87,245.51 L431.56,242.55 L432.24,239.64 L432.93,236.81 L433.62,234.07 L434.31,231.42 L435,228.88" fill="none" stroke="#2828d2" stroke-width="1.75" stroke-linejoin="miter" stroke-miterlimit="10"/>
</g>
<rect x="347.2" y="204.6" width="87.3" height="52.4" fill="none" stroke="#8e8e8e" stroke-width="1.35"/>
<line x1="347.2" y1="218.7" x2="348.4" y2="218.7" stroke="#8e8e8e" stroke-width="0.7"/>
<line x1="433.3" y1="218.7" x2="434.5" y2="218.7" stroke="#8e8e8e" stroke-width="0.7"/>
<line x1="347.2" y1="237.6" x2="348.4" y2="237.6" stroke="#8e8e8e" stroke-width="0.7"/>
<line x1="433.3" y1="237.6" x2="434.5" y2="237.6" stroke="#8e8e8e" stroke-width="0.7"/>
<line x1="347.2" y1="256.4" x2="348.4" y2="256.4" stroke="#8e8e8e" stroke-width="0.7"/>
<line x1="433.3" y1="256.4" x2="434.5" y2="256.4" stroke="#8e8e8e" stroke-width="0.7"/>
<line x1="367.4" y1="204.6" x2="367.4" y2="205.8" stroke="#8e8e8e" stroke-width="0.7"/>
<line x1="367.4" y1="255.8" x2="367.4" y2="257" stroke="#8e8e8e" stroke-width="0.7"/>
<line x1="387.6" y1="204.6" x2="387.6" y2="205.8" stroke="#8e8e8e" stroke-width="0.7"/>
<line x1="387.6" y1="255.8" x2="387.6" y2="257" stroke="#8e8e8e" stroke-width="0.7"/>
<line x1="407.8" y1="204.6" x2="407.8" y2="205.8" stroke="#8e8e8e" stroke-width="0.7"/>
<line x1="407.8" y1="255.8" x2="407.8" y2="257" stroke="#8e8e8e" stroke-width="0.7"/>
<line x1="428" y1="204.6" x2="428" y2="205.8" stroke="#8e8e8e" stroke-width="0.7"/>
<line x1="428" y1="255.8" x2="428" y2="257" stroke="#8e8e8e" stroke-width="0.7"/>
<rect x="461" y="205.6" width="84.5" height="51" fill="#fff"/>
<line x1="461" y1="219.9" x2="545.5" y2="219.9" stroke="#e3e3e3" stroke-width="0.8"/>
<line x1="461" y1="237.7" x2="545.5" y2="237.7" stroke="#e3e3e3" stroke-width="0.8"/>
<line x1="461" y1="255.4" x2="545.5" y2="255.4" stroke="#e3e3e3" stroke-width="0.8"/>
<line x1="480.56" y1="205.6" x2="480.56" y2="256.6" stroke="#e3e3e3" stroke-width="0.8"/>
<line x1="500.12" y1="205.6" x2="500.12" y2="256.6" stroke="#e3e3e3" stroke-width="0.8"/>
<line x1="519.68" y1="205.6" x2="519.68" y2="256.6" stroke="#e3e3e3" stroke-width="0.8"/>
<line x1="539.24" y1="205.6" x2="539.24" y2="256.6" stroke="#e3e3e3" stroke-width="0.8"/>
<text x="457.6" y="221" font-family="Liberation Sans" font-size="6.496" font-weight="normal" fill="#3c3c3c" text-anchor="end" dominant-baseline="central" transform="translate(457.6 221) scale(0.86 1) translate(-457.6 -221)">4</text>
<text x="457.6" y="238.8" font-family="Liberation Sans" font-size="6.496" font-weight="normal" fill="#3c3c3c" text-anchor="end" dominant-baseline="central" transform="translate(457.6 238.8) scale(0.86 1) translate(-457.6 -238.8)">2</text>
<text x="457.6" y="256.5" font-family="Liberation Sans" font-size="6.496" font-weight="normal" fill="#3c3c3c" text-anchor="end" dominant-baseline="central" transform="translate(457.6 256.5) scale(0.86 1) translate(-457.6 -256.5)">0</text>
<text x="461" y="265.2" font-family="Liberation Sans" font-size="6.496" font-weight="normal" fill="#3c3c3c" text-anchor="middle" dominant-baseline="central" transform="translate(461 265.2) scale(0.86 1) translate(-461 -265.2)">0</text>
<text x="480.56" y="265.2" font-family="Liberation Sans" font-size="6.496" font-weight="normal" fill="#3c3c3c" text-anchor="middle" dominant-baseline="central" transform="translate(480.56 265.2) scale(0.86 1) translate(-480.56 -265.2)">2</text>
<text x="500.12" y="265.2" font-family="Liberation Sans" font-size="6.496" font-weight="normal" fill="#3c3c3c" text-anchor="middle" dominant-baseline="central" transform="translate(500.12 265.2) scale(0.86 1) translate(-500.12 -265.2)">4</text>
<text x="519.68" y="265.2" font-family="Liberation Sans" font-size="6.496" font-weight="normal" fill="#3c3c3c" text-anchor="middle" dominant-baseline="central" transform="translate(519.68 265.2) scale(0.86 1) translate(-519.68 -265.2)">6</text>
<text x="539.24" y="265.2" font-family="Liberation Sans" font-size="6.496" font-weight="normal" fill="#3c3c3c" text-anchor="middle" dominant-baseline="central" transform="translate(539.24 265.2) scale(0.86 1) translate(-539.24 -265.2)">8</text>
<text x="445" y="231.3" font-family="Liberation Serif" font-size="7.5" font-weight="bold" fill="#111" text-anchor="middle" dominant-baseline="central" transform="rotate(-90 445 231.3)" textLength="22" lengthAdjust="spacingAndGlyphs">U4(Nm)</text>
<clipPath id="cd4"><rect x="461" y="205.6" width="84.5" height="51"/></clipPath>
<g clip-path="url(#cd4)">
<path d="M461.5,256.6 L461.5,238 L462.5,246 L463.5,252 L465,250.5 L466.3,249.2 L468,250.2 L471,252.8 L474,254.2 L480,254.8 L545.5,254.6 L545.5,256.6 Z" fill="#2828d2"/>
<path d="M461.3,256.6 L461.3,236.5 L462.2,240 L462.7,247 L463.5,251 L465,254.5 L470,255 L488,254.8 L488.1,231.5 L488.9,231.5 L489.3,254.5 L500,255.3 L510,254.9 L520,255.2 L530,254.8 L545.5,255.5 L545.5,256.6 Z" fill="#dc3a3a"/>
<path d="M470,254.8 L480,254.4 L490,255 L500,254.3 L510,254.9 L520,254.2 L530,254.8 L538,254.1 L545.5,255" fill="none" stroke="#2828d2" stroke-width="1.1" opacity="0.8"/>
<path d="M470,255.2 L485,254.9 L495,255.3 L505,254.7 L515,255.2 L525,254.6 L535,255.2 L545.5,254.8" fill="none" stroke="#dc3a3a" stroke-width="0.9" opacity="0.8"/>
</g>
<rect x="461" y="205.6" width="84.5" height="51" fill="none" stroke="#8e8e8e" stroke-width="1.35"/>
<line x1="461" y1="219.9" x2="462.2" y2="219.9" stroke="#8e8e8e" stroke-width="0.7"/>
<line x1="544.3" y1="219.9" x2="545.5" y2="219.9" stroke="#8e8e8e" stroke-width="0.7"/>
<line x1="461" y1="237.7" x2="462.2" y2="237.7" stroke="#8e8e8e" stroke-width="0.7"/>
<line x1="544.3" y1="237.7" x2="545.5" y2="237.7" stroke="#8e8e8e" stroke-width="0.7"/>
<line x1="461" y1="255.4" x2="462.2" y2="255.4" stroke="#8e8e8e" stroke-width="0.7"/>
<line x1="544.3" y1="255.4" x2="545.5" y2="255.4" stroke="#8e8e8e" stroke-width="0.7"/>
<line x1="480.56" y1="205.6" x2="480.56" y2="206.8" stroke="#8e8e8e" stroke-width="0.7"/>
<line x1="480.56" y1="255.4" x2="480.56" y2="256.6" stroke="#8e8e8e" stroke-width="0.7"/>
<line x1="500.12" y1="205.6" x2="500.12" y2="206.8" stroke="#8e8e8e" stroke-width="0.7"/>
<line x1="500.12" y1="255.4" x2="500.12" y2="256.6" stroke="#8e8e8e" stroke-width="0.7"/>
<line x1="519.68" y1="205.6" x2="519.68" y2="206.8" stroke="#8e8e8e" stroke-width="0.7"/>
<line x1="519.68" y1="255.4" x2="519.68" y2="256.6" stroke="#8e8e8e" stroke-width="0.7"/>
<line x1="539.24" y1="205.6" x2="539.24" y2="206.8" stroke="#8e8e8e" stroke-width="0.7"/>
<line x1="539.24" y1="255.4" x2="539.24" y2="256.6" stroke="#8e8e8e" stroke-width="0.7"/>
<rect x="346.5" y="270.3" width="88.1" height="55.3" fill="#fff"/>
<line x1="346.5" y1="283.8" x2="434.6" y2="283.8" stroke="#e3e3e3" stroke-width="0.8"/>
<line x1="346.5" y1="304.6" x2="434.6" y2="304.6" stroke="#e3e3e3" stroke-width="0.8"/>
<line x1="346.5" y1="325.4" x2="434.6" y2="325.4" stroke="#e3e3e3" stroke-width="0.8"/>
<line x1="366.9" y1="270.3" x2="366.9" y2="325.6" stroke="#e3e3e3" stroke-width="0.8"/>
<line x1="387.3" y1="270.3" x2="387.3" y2="325.6" stroke="#e3e3e3" stroke-width="0.8"/>
<line x1="407.7" y1="270.3" x2="407.7" y2="325.6" stroke="#e3e3e3" stroke-width="0.8"/>
<line x1="428.1" y1="270.3" x2="428.1" y2="325.6" stroke="#e3e3e3" stroke-width="0.8"/>
<text x="342.9" y="284.9" font-family="Liberation Sans" font-size="6.496" font-weight="normal" fill="#3c3c3c" text-anchor="end" dominant-baseline="central" transform="translate(342.9 284.9) scale(0.86 1) translate(-342.9 -284.9)">40</text>
<text x="342.9" y="305.7" font-family="Liberation Sans" font-size="6.496" font-weight="normal" fill="#3c3c3c" text-anchor="end" dominant-baseline="central" transform="translate(342.9 305.7) scale(0.86 1) translate(-342.9 -305.7)">20</text>
<text x="342.9" y="326.5" font-family="Liberation Sans" font-size="6.496" font-weight="normal" fill="#3c3c3c" text-anchor="end" dominant-baseline="central" transform="translate(342.9 326.5) scale(0.86 1) translate(-342.9 -326.5)">0</text>
<text x="346.5" y="333.6" font-family="Liberation Sans" font-size="6.496" font-weight="normal" fill="#3c3c3c" text-anchor="middle" dominant-baseline="central" transform="translate(346.5 333.6) scale(0.86 1) translate(-346.5 -333.6)">0</text>
<text x="366.9" y="333.6" font-family="Liberation Sans" font-size="6.496" font-weight="normal" fill="#3c3c3c" text-anchor="middle" dominant-baseline="central" transform="translate(366.9 333.6) scale(0.86 1) translate(-366.9 -333.6)">2</text>
<text x="387.3" y="333.6" font-family="Liberation Sans" font-size="6.496" font-weight="normal" fill="#3c3c3c" text-anchor="middle" dominant-baseline="central" transform="translate(387.3 333.6) scale(0.86 1) translate(-387.3 -333.6)">4</text>
<text x="407.7" y="333.6" font-family="Liberation Sans" font-size="6.496" font-weight="normal" fill="#3c3c3c" text-anchor="middle" dominant-baseline="central" transform="translate(407.7 333.6) scale(0.86 1) translate(-407.7 -333.6)">6</text>
<text x="428.1" y="333.6" font-family="Liberation Sans" font-size="6.496" font-weight="normal" fill="#3c3c3c" text-anchor="middle" dominant-baseline="central" transform="translate(428.1 333.6) scale(0.86 1) translate(-428.1 -333.6)">8</text>
<text x="334" y="297.8" font-family="Liberation Serif" font-size="7.5" font-weight="bold" fill="#111" text-anchor="middle" dominant-baseline="central" transform="rotate(-90 334 297.8)" textLength="22.4" lengthAdjust="spacingAndGlyphs">U2(Nm)</text>
<clipPath id="cd2"><rect x="346.5" y="270.3" width="88.1" height="55.3"/></clipPath>
<g clip-path="url(#cd2)">
<path d="M346.5,325.6 L346.8,320 L347.6,324 L348.4,319 L349.2,323 L350,318.5 L350.8,322.5 L351.6,318 L352.4,321.5 L353.2,316.5 L354,320.5 L354.8,315.5 L355.6,319 L356.4,313.5 L357.2,317.5 L358,311.5 L358.5,318 L357,325.6 Z" fill="#2828d2"/>
<path d="M357.5,312.5 L359.5,307.2 L363.1,301.4 L366,299.2 L369.7,302.8 L374,311.5 L377.5,318 L381.3,324.6 L384,319 L387.1,313 L392.9,302.8 L396.5,300.2 L399,301.5 L401.9,306.2 L405,311.5 L408.1,317.1 L413.5,324.6 L416,320.5 L419,315.5 L425.2,304.7 L429.8,300.4 L432.5,302 L434.7,306.2" fill="none" stroke="#2828d2" stroke-width="1.2" stroke-linejoin="round"/>
<path d="M347.1,283.2 L347.3,325 L347.9,298.5 L348.5,323 L349.4,273.1 L350.1,310 L351.1,297 L352,307.2 L353,294.1 L353.8,296 L354.9,305.7 L356.3,304 L358,307.2 L359.5,308 L361,311.5 L362.4,317.3 L364.6,324.6 L366.8,315.9 L369.7,307.2 L372.6,299.2 L374.8,296.3 L375.5,295.6 L375.9,311.5 L376.9,320.2 L378.4,311.5 L379.8,313 L381.3,324.6 L383.5,305.7 L384.9,291.2 L386.4,295.6 L388.5,299.2 L391.4,303.6 L394.3,311.5 L396.6,324.6 L400.4,309.3 L403.5,297" fill="none" stroke="#dc3a3a" stroke-width="1.25" stroke-linejoin="round"/>
<path d="M400.4,303 C400.92,302.03 402.4,298.57 403.5,297.2 C404.6,295.83 405.75,295.27 407,294.8 C408.25,294.33 409.67,294.45 411,294.4 C412.33,294.35 413.75,294.32 415,294.5 C416.25,294.68 417.5,294.85 418.5,295.5 C419.5,296.15 420.58,297.92 421,298.4" fill="none" stroke="#dc3a3a" stroke-width="2.8" stroke-linejoin="round" stroke-linecap="round" opacity="1.0"/>
<path d="M420.5,299.3 L424.4,309.3 L428.2,325.2 L431.3,309.3 L434.7,300" fill="none" stroke="#dc3a3a" stroke-width="1.25" stroke-linejoin="round"/>
</g>
<rect x="346.5" y="270.3" width="88.1" height="55.3" fill="none" stroke="#8e8e8e" stroke-width="1.35"/>
<line x1="346.5" y1="283.8" x2="347.7" y2="283.8" stroke="#8e8e8e" stroke-width="0.7"/>
<line x1="433.4" y1="283.8" x2="434.6" y2="283.8" stroke="#8e8e8e" stroke-width="0.7"/>
<line x1="346.5" y1="304.6" x2="347.7" y2="304.6" stroke="#8e8e8e" stroke-width="0.7"/>
<line x1="433.4" y1="304.6" x2="434.6" y2="304.6" stroke="#8e8e8e" stroke-width="0.7"/>
<line x1="346.5" y1="325.4" x2="347.7" y2="325.4" stroke="#8e8e8e" stroke-width="0.7"/>
<line x1="433.4" y1="325.4" x2="434.6" y2="325.4" stroke="#8e8e8e" stroke-width="0.7"/>
<line x1="366.9" y1="270.3" x2="366.9" y2="271.5" stroke="#8e8e8e" stroke-width="0.7"/>
<line x1="366.9" y1="324.4" x2="366.9" y2="325.6" stroke="#8e8e8e" stroke-width="0.7"/>
<line x1="387.3" y1="270.3" x2="387.3" y2="271.5" stroke="#8e8e8e" stroke-width="0.7"/>
<line x1="387.3" y1="324.4" x2="387.3" y2="325.6" stroke="#8e8e8e" stroke-width="0.7"/>
<line x1="407.7" y1="270.3" x2="407.7" y2="271.5" stroke="#8e8e8e" stroke-width="0.7"/>
<line x1="407.7" y1="324.4" x2="407.7" y2="325.6" stroke="#8e8e8e" stroke-width="0.7"/>
<line x1="428.1" y1="270.3" x2="428.1" y2="271.5" stroke="#8e8e8e" stroke-width="0.7"/>
<line x1="428.1" y1="324.4" x2="428.1" y2="325.6" stroke="#8e8e8e" stroke-width="0.7"/>
<rect x="461.3" y="269.6" width="84.3" height="53.3" fill="#fff"/>
<line x1="461.3" y1="277.3" x2="545.6" y2="277.3" stroke="#e3e3e3" stroke-width="0.8"/>
<line x1="461.3" y1="289" x2="545.6" y2="289" stroke="#e3e3e3" stroke-width="0.8"/>
<line x1="461.3" y1="300.3" x2="545.6" y2="300.3" stroke="#e3e3e3" stroke-width="0.8"/>
<line x1="461.3" y1="311.7" x2="545.6" y2="311.7" stroke="#e3e3e3" stroke-width="0.8"/>
<line x1="461.3" y1="323" x2="545.6" y2="323" stroke="#e3e3e3" stroke-width="0.8"/>
<line x1="480.2" y1="269.6" x2="480.2" y2="322.9" stroke="#e3e3e3" stroke-width="0.8"/>
<line x1="499.7" y1="269.6" x2="499.7" y2="322.9" stroke="#e3e3e3" stroke-width="0.8"/>
<line x1="519.3" y1="269.6" x2="519.3" y2="322.9" stroke="#e3e3e3" stroke-width="0.8"/>
<line x1="538.8" y1="269.6" x2="538.8" y2="322.9" stroke="#e3e3e3" stroke-width="0.8"/>
<text x="458.5" y="278.4" font-family="Liberation Sans" font-size="6.496" font-weight="normal" fill="#3c3c3c" text-anchor="end" dominant-baseline="central" transform="translate(458.5 278.4) scale(0.86 1) translate(-458.5 -278.4)">0.08</text>
<text x="458.5" y="290.1" font-family="Liberation Sans" font-size="6.496" font-weight="normal" fill="#3c3c3c" text-anchor="end" dominant-baseline="central" transform="translate(458.5 290.1) scale(0.86 1) translate(-458.5 -290.1)">0.06</text>
<text x="458.5" y="301.4" font-family="Liberation Sans" font-size="6.496" font-weight="normal" fill="#3c3c3c" text-anchor="end" dominant-baseline="central" transform="translate(458.5 301.4) scale(0.86 1) translate(-458.5 -301.4)">0.04</text>
<text x="458.5" y="312.8" font-family="Liberation Sans" font-size="6.496" font-weight="normal" fill="#3c3c3c" text-anchor="end" dominant-baseline="central" transform="translate(458.5 312.8) scale(0.86 1) translate(-458.5 -312.8)">0.02</text>
<text x="458.5" y="324.1" font-family="Liberation Sans" font-size="6.496" font-weight="normal" fill="#3c3c3c" text-anchor="end" dominant-baseline="central" transform="translate(458.5 324.1) scale(0.86 1) translate(-458.5 -324.1)">0</text>
<text x="460.7" y="331" font-family="Liberation Sans" font-size="6.496" font-weight="normal" fill="#3c3c3c" text-anchor="middle" dominant-baseline="central" transform="translate(460.7 331) scale(0.86 1) translate(-460.7 -331)">0</text>
<text x="480.2" y="331" font-family="Liberation Sans" font-size="6.496" font-weight="normal" fill="#3c3c3c" text-anchor="middle" dominant-baseline="central" transform="translate(480.2 331) scale(0.86 1) translate(-480.2 -331)">2</text>
<text x="499.7" y="331" font-family="Liberation Sans" font-size="6.496" font-weight="normal" fill="#3c3c3c" text-anchor="middle" dominant-baseline="central" transform="translate(499.7 331) scale(0.86 1) translate(-499.7 -331)">4</text>
<text x="519.3" y="331" font-family="Liberation Sans" font-size="6.496" font-weight="normal" fill="#3c3c3c" text-anchor="middle" dominant-baseline="central" transform="translate(519.3 331) scale(0.86 1) translate(-519.3 -331)">6</text>
<text x="538.8" y="331" font-family="Liberation Sans" font-size="6.496" font-weight="normal" fill="#3c3c3c" text-anchor="middle" dominant-baseline="central" transform="translate(538.8 331) scale(0.86 1) translate(-538.8 -331)">8</text>
<text x="444" y="297.9" font-family="Liberation Serif" font-size="7.5" font-weight="bold" fill="#111" text-anchor="middle" dominant-baseline="central" transform="rotate(-90 444 297.9)" textLength="21.7" lengthAdjust="spacingAndGlyphs">U5(Nm)</text>
<clipPath id="cd5"><rect x="461.3" y="269.6" width="84.3" height="53.3"/></clipPath>
<g clip-path="url(#cd5)">
<path d="M461.3,323 L461.3,286.3 L462.5,279 L463.5,272.1 L464.5,276 L465.5,290 L466.5,305 L467.2,314 L467.6,323 Z" fill="#2020e0"/>
<path d="M470.8,323 L471.2,309.6 L472.5,300.2 L474.7,295 L476,294 L477.6,293.6 L480,295 L482,297.3 L485.6,302.3 L487.8,306.7 L488.5,307.5 L488.6,323 Z" fill="#2020e0"/>
<path d="M503.8,323 L503.9,298.5 L504.6,290 L507.7,285.3 L512,292 L517,301 L519.4,307.8 L519.6,323 Z" fill="#2020e0"/>
<path d="M535.2,323 L535.3,298.5 L536.2,289 L538.4,285.3 L541,289.5 L545.6,298.5 L545.6,323 Z" fill="#2020e0"/>
<path d="M461.3,323 L461.3,299.4 L463.1,311 L465.3,316.9 L469.6,320.5 L474,321.2 L479.8,319 L485.6,315.4 L489,314 L492.9,313.7 L498.7,314.7 L503,318.3 L507,321.2 L510,319 L513.9,315.5 L518,313.8 L523.2,313.2 L528,314.5 L534,318.6 L537.2,321.3 L541,320 L545.6,318.6 L545.6,323 Z" fill="#dc3a3a"/>
</g>
<rect x="461.3" y="269.6" width="84.3" height="53.3" fill="none" stroke="#8e8e8e" stroke-width="1.35"/>
<line x1="461.3" y1="277.3" x2="462.5" y2="277.3" stroke="#8e8e8e" stroke-width="0.7"/>
<line x1="544.4" y1="277.3" x2="545.6" y2="277.3" stroke="#8e8e8e" stroke-width="0.7"/>
<line x1="461.3" y1="289" x2="462.5" y2="289" stroke="#8e8e8e" stroke-width="0.7"/>
<line x1="544.4" y1="289" x2="545.6" y2="289" stroke="#8e8e8e" stroke-width="0.7"/>
<line x1="461.3" y1="300.3" x2="462.5" y2="300.3" stroke="#8e8e8e" stroke-width="0.7"/>
<line x1="544.4" y1="300.3" x2="545.6" y2="300.3" stroke="#8e8e8e" stroke-width="0.7"/>
<line x1="461.3" y1="311.7" x2="462.5" y2="311.7" stroke="#8e8e8e" stroke-width="0.7"/>
<line x1="544.4" y1="311.7" x2="545.6" y2="311.7" stroke="#8e8e8e" stroke-width="0.7"/>
<line x1="461.3" y1="323" x2="462.5" y2="323" stroke="#8e8e8e" stroke-width="0.7"/>
<line x1="544.4" y1="323" x2="545.6" y2="323" stroke="#8e8e8e" stroke-width="0.7"/>
<line x1="480.2" y1="269.6" x2="480.2" y2="270.8" stroke="#8e8e8e" stroke-width="0.7"/>
<line x1="480.2" y1="321.7" x2="480.2" y2="322.9" stroke="#8e8e8e" stroke-width="0.7"/>
<line x1="499.7" y1="269.6" x2="499.7" y2="270.8" stroke="#8e8e8e" stroke-width="0.7"/>
<line x1="499.7" y1="321.7" x2="499.7" y2="322.9" stroke="#8e8e8e" stroke-width="0.7"/>
<line x1="519.3" y1="269.6" x2="519.3" y2="270.8" stroke="#8e8e8e" stroke-width="0.7"/>
<line x1="519.3" y1="321.7" x2="519.3" y2="322.9" stroke="#8e8e8e" stroke-width="0.7"/>
<line x1="538.8" y1="269.6" x2="538.8" y2="270.8" stroke="#8e8e8e" stroke-width="0.7"/>
<line x1="538.8" y1="321.7" x2="538.8" y2="322.9" stroke="#8e8e8e" stroke-width="0.7"/>
<rect x="346.2" y="336.9" width="88.5" height="53.7" fill="#fff"/>
<line x1="346.2" y1="353.4" x2="434.7" y2="353.4" stroke="#e3e3e3" stroke-width="0.8"/>
<line x1="346.2" y1="371.2" x2="434.7" y2="371.2" stroke="#e3e3e3" stroke-width="0.8"/>
<line x1="346.2" y1="388.6" x2="434.7" y2="388.6" stroke="#e3e3e3" stroke-width="0.8"/>
<line x1="366.8" y1="336.9" x2="366.8" y2="390.6" stroke="#e3e3e3" stroke-width="0.8"/>
<line x1="387.4" y1="336.9" x2="387.4" y2="390.6" stroke="#e3e3e3" stroke-width="0.8"/>
<line x1="408" y1="336.9" x2="408" y2="390.6" stroke="#e3e3e3" stroke-width="0.8"/>
<line x1="428.6" y1="336.9" x2="428.6" y2="390.6" stroke="#e3e3e3" stroke-width="0.8"/>
<text x="342.8" y="354.5" font-family="Liberation Sans" font-size="6.496" font-weight="normal" fill="#3c3c3c" text-anchor="end" dominant-baseline="central" transform="translate(342.8 354.5) scale(0.86 1) translate(-342.8 -354.5)">20</text>
<text x="342.8" y="372.3" font-family="Liberation Sans" font-size="6.496" font-weight="normal" fill="#3c3c3c" text-anchor="end" dominant-baseline="central" transform="translate(342.8 372.3) scale(0.86 1) translate(-342.8 -372.3)">10</text>
<text x="342.8" y="389.7" font-family="Liberation Sans" font-size="6.496" font-weight="normal" fill="#3c3c3c" text-anchor="end" dominant-baseline="central" transform="translate(342.8 389.7) scale(0.86 1) translate(-342.8 -389.7)">0</text>
<text x="346.2" y="399.4" font-family="Liberation Sans" font-size="6.496" font-weight="normal" fill="#3c3c3c" text-anchor="middle" dominant-baseline="central" transform="translate(346.2 399.4) scale(0.86 1) translate(-346.2 -399.4)">0</text>
<text x="366.8" y="399.4" font-family="Liberation Sans" font-size="6.496" font-weight="normal" fill="#3c3c3c" text-anchor="middle" dominant-baseline="central" transform="translate(366.8 399.4) scale(0.86 1) translate(-366.8 -399.4)">2</text>
<text x="387.4" y="399.4" font-family="Liberation Sans" font-size="6.496" font-weight="normal" fill="#3c3c3c" text-anchor="middle" dominant-baseline="central" transform="translate(387.4 399.4) scale(0.86 1) translate(-387.4 -399.4)">4</text>
<text x="408" y="399.4" font-family="Liberation Sans" font-size="6.496" font-weight="normal" fill="#3c3c3c" text-anchor="middle" dominant-baseline="central" transform="translate(408 399.4) scale(0.86 1) translate(-408 -399.4)">6</text>
<text x="428.6" y="399.4" font-family="Liberation Sans" font-size="6.496" font-weight="normal" fill="#3c3c3c" text-anchor="middle" dominant-baseline="central" transform="translate(428.6 399.4) scale(0.86 1) translate(-428.6 -399.4)">8</text>
<text x="334" y="364.1" font-family="Liberation Serif" font-size="7.5" font-weight="bold" fill="#111" text-anchor="middle" dominant-baseline="central" transform="rotate(-90 334 364.1)" textLength="23.9" lengthAdjust="spacingAndGlyphs">U3(Nm)</text>
<clipPath id="cd3"><rect x="346.2" y="336.9" width="88.5" height="53.7"/></clipPath>
<g clip-path="url(#cd3)">
<path d="M346.2,388.6 C346.83,388.57 348.8,388.58 350,388.4 C351.2,388.22 352.4,388.07 353.4,387.5 C354.4,386.93 355.15,385.82 356,385 C356.85,384.18 357.65,383.18 358.5,382.6 C359.35,382.02 360.18,381.55 361.1,381.5 C362.02,381.45 362.85,381.78 364,382.3 C365.15,382.82 366.5,383.82 368,384.6 C369.5,385.38 371.5,386.35 373,387 C374.5,387.65 375.52,388.18 377,388.5 C378.48,388.82 380.4,389.15 381.9,388.9 C383.4,388.65 384.65,387.9 386,387 C387.35,386.1 388.53,384.42 390,383.5 C391.47,382.58 393.3,381.58 394.8,381.5 C396.3,381.42 397.47,382.17 399,383 C400.53,383.83 402.42,385.6 404,386.5 C405.58,387.4 407,388 408.5,388.4 C410,388.8 411.58,389.17 413,388.9 C414.42,388.63 415.67,387.78 417,386.8 C418.33,385.82 419.8,383.88 421,383 C422.2,382.12 423.12,381.58 424.2,381.5 C425.28,381.42 426.37,382.08 427.5,382.5 C428.63,382.92 429.8,383.45 431,384 C432.2,384.55 434.08,385.5 434.7,385.8" fill="none" stroke="#2828d2" stroke-width="2.2" stroke-linejoin="round" stroke-linecap="round" opacity="1.0"/>
<path d="M346.5,371.1 C346.57,373.92 346.68,386.85 346.9,388 C347.12,389.15 347.52,379.27 347.8,378 C348.08,376.73 348.3,381.83 348.6,380.4 C348.9,378.97 349.32,368.13 349.6,369.4 C349.88,370.67 349.93,385.57 350.3,388 C350.67,390.43 351.38,385.5 351.8,384 C352.22,382.5 352.48,379.7 352.8,379 C353.12,378.3 353.4,379.47 353.7,379.8 C354,380.13 354.22,380.28 354.6,381 C354.98,381.72 355.35,383.1 356,384.1 C356.65,385.1 357.65,386.2 358.5,387 C359.35,387.8 360.35,389.15 361.1,388.9 C361.85,388.65 362.27,386.58 363,385.5 C363.73,384.42 364.23,383.27 365.5,382.4 C366.77,381.53 369.02,380.7 370.6,380.3 C372.18,379.9 374.22,384.83 375,380 C375.78,375.17 375.18,349.88 375.3,351.3 C375.42,352.72 375.55,383.72 375.7,388.5 C375.85,393.28 375.32,381.45 376.2,380 C377.08,378.55 379.53,379.88 381,379.8 C382.47,379.72 384.13,379.67 385,379.5 C385.87,379.33 385.78,378.75 386.2,378.8 C386.62,378.85 387.07,379.55 387.5,379.8 C387.93,380.05 387.87,379.3 388.8,380.3 C389.73,381.3 391.95,384.3 393.1,385.8 C394.25,387.3 394.8,389.52 395.7,389.3 C396.6,389.08 397.5,386 398.5,384.5 C399.5,383 400.02,380.8 401.7,380.3 C403.38,379.8 406.55,381.42 408.6,381.5 C410.65,381.58 412.27,381 414,380.8 C415.73,380.6 417.3,379.75 419,380.3 C420.7,380.85 422.47,382.67 424.2,384.1 C425.93,385.53 427.65,389.42 429.4,388.9 C431.15,388.38 433.82,382.32 434.7,381" fill="none" stroke="#dc3a3a" stroke-width="1.4" stroke-linejoin="round"/>
</g>
<rect x="346.2" y="336.9" width="88.5" height="53.7" fill="none" stroke="#8e8e8e" stroke-width="1.35"/>
<line x1="346.2" y1="353.4" x2="347.4" y2="353.4" stroke="#8e8e8e" stroke-width="0.7"/>
<line x1="433.5" y1="353.4" x2="434.7" y2="353.4" stroke="#8e8e8e" stroke-width="0.7"/>
<line x1="346.2" y1="371.2" x2="347.4" y2="371.2" stroke="#8e8e8e" stroke-width="0.7"/>
<line x1="433.5" y1="371.2" x2="434.7" y2="371.2" stroke="#8e8e8e" stroke-width="0.7"/>
<line x1="346.2" y1="388.6" x2="347.4" y2="388.6" stroke="#8e8e8e" stroke-width="0.7"/>
<line x1="433.5" y1="388.6" x2="434.7" y2="388.6" stroke="#8e8e8e" stroke-width="0.7"/>
<line x1="366.8" y1="336.9" x2="366.8" y2="338.1" stroke="#8e8e8e" stroke-width="0.7"/>
<line x1="366.8" y1="389.4" x2="366.8" y2="390.6" stroke="#8e8e8e" stroke-width="0.7"/>
<line x1="387.4" y1="336.9" x2="387.4" y2="338.1" stroke="#8e8e8e" stroke-width="0.7"/>
<line x1="387.4" y1="389.4" x2="387.4" y2="390.6" stroke="#8e8e8e" stroke-width="0.7"/>
<line x1="408" y1="336.9" x2="408" y2="338.1" stroke="#8e8e8e" stroke-width="0.7"/>
<line x1="408" y1="389.4" x2="408" y2="390.6" stroke="#8e8e8e" stroke-width="0.7"/>
<line x1="428.6" y1="336.9" x2="428.6" y2="338.1" stroke="#8e8e8e" stroke-width="0.7"/>
<line x1="428.6" y1="389.4" x2="428.6" y2="390.6" stroke="#8e8e8e" stroke-width="0.7"/>
<text x="390.8" y="406" font-family="Liberation Serif" font-size="6.9" font-weight="bold" fill="#111" text-anchor="middle" dominant-baseline="central">Time (seconds)</text>
<rect x="477.6" y="348.5" width="36.4" height="18.1" fill="#fff" stroke="#555" stroke-width="0.7"/>
<line x1="479.7" y1="353.5" x2="495.5" y2="353.5" stroke="#5050e0" stroke-width="1.3"/>
<line x1="479.7" y1="361.6" x2="495.5" y2="361.6" stroke="#e04848" stroke-width="1.5"/>
<text x="498.8" y="353.3" font-family="Liberation Serif" font-size="7.0" font-weight="normal" fill="#111" text-anchor="start" dominant-baseline="central" stroke="#111" stroke-width="0.18" textLength="13.1" lengthAdjust="spacingAndGlyphs">MPC</text>
<text x="498.8" y="361.8" font-family="Liberation Serif" font-size="7.0" font-weight="normal" fill="#111" text-anchor="start" dominant-baseline="central" stroke="#111" stroke-width="0.18" textLength="10.1" lengthAdjust="spacingAndGlyphs">PID</text>
<text x="494.6" y="383" font-family="Liberation Serif" font-size="6.7" font-weight="bold" fill="#111" text-anchor="middle" dominant-baseline="central">(d) Torque inputs tracking</text>
</svg>
</body></html>
